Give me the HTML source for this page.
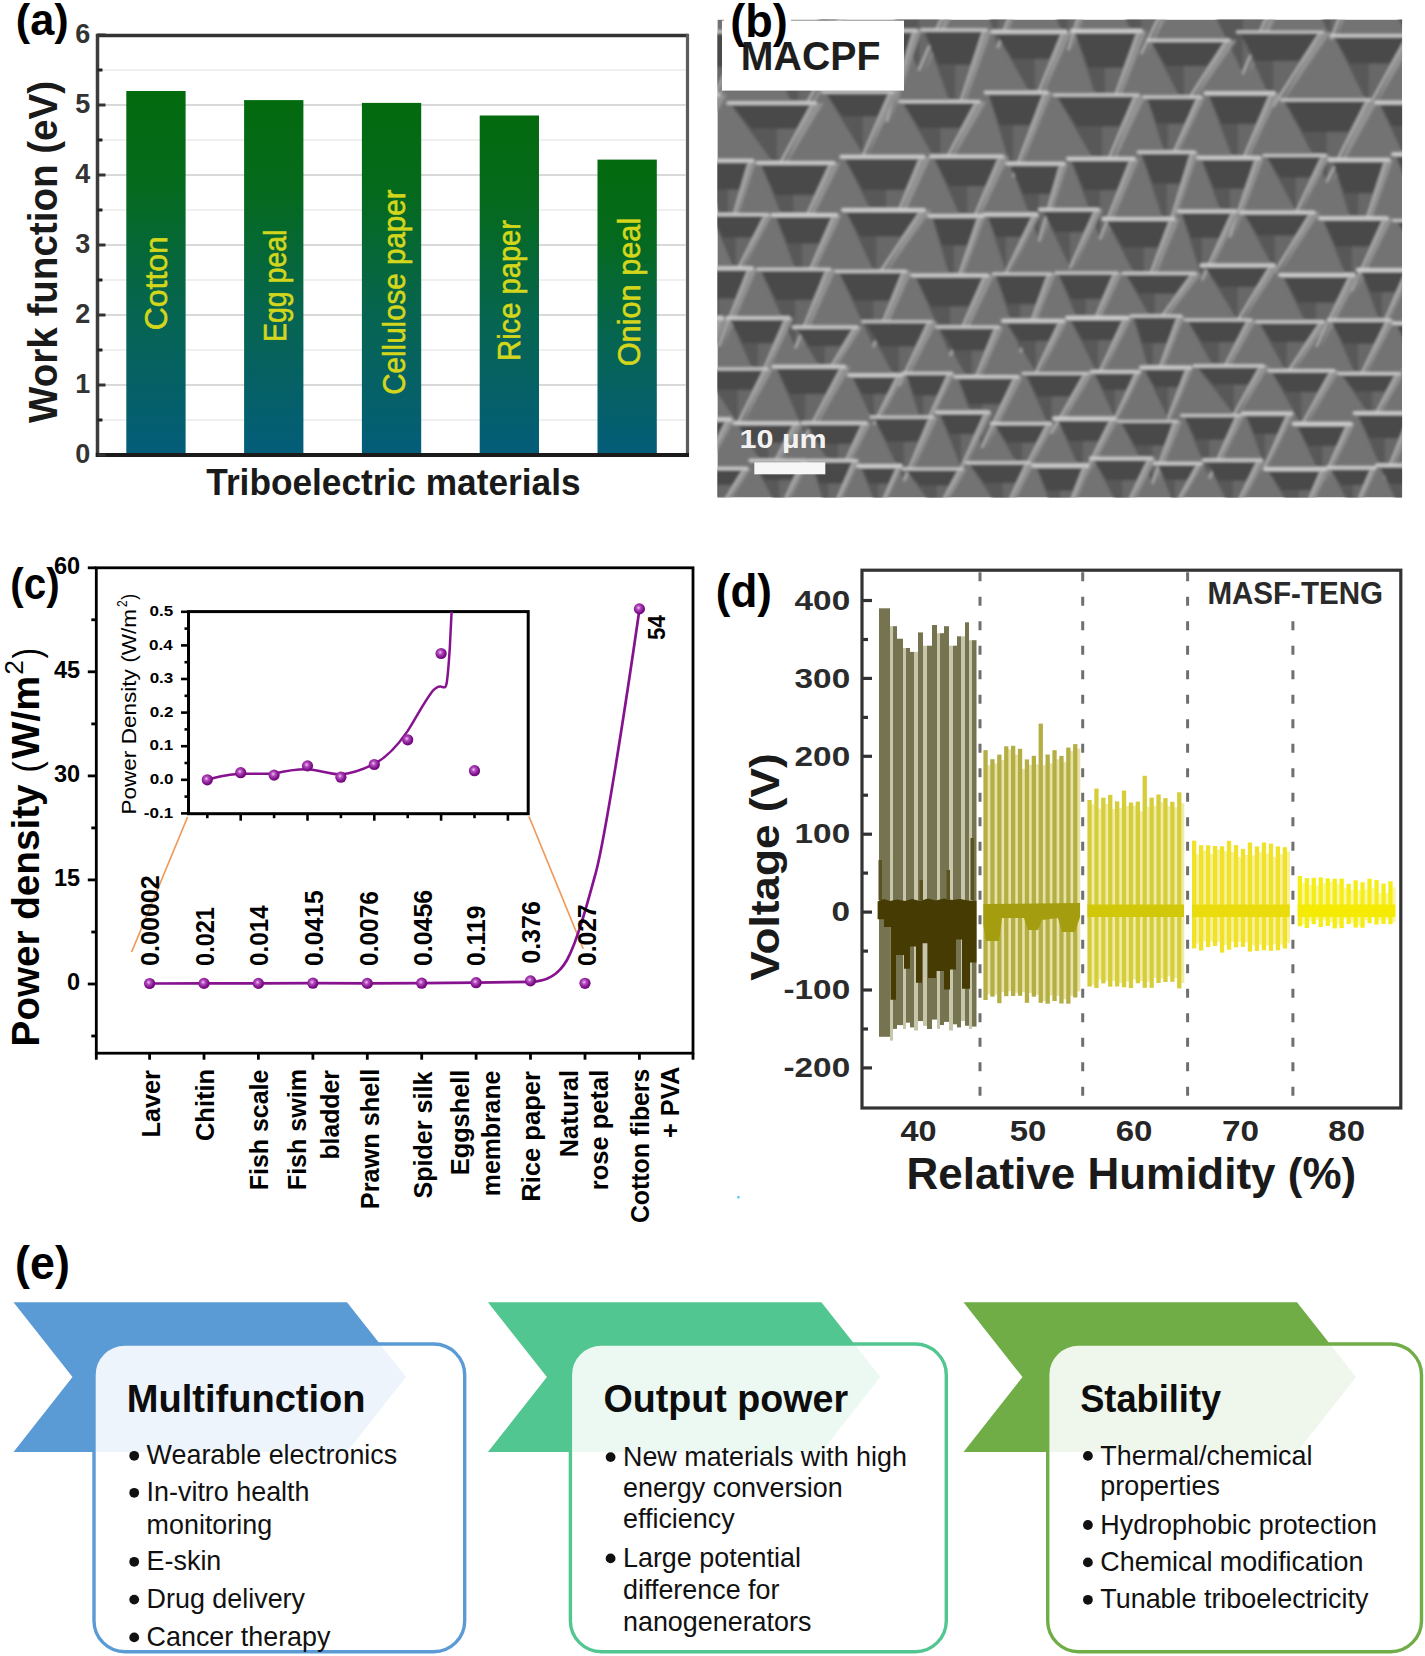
<!DOCTYPE html>
<html><head><meta charset="utf-8"><style>
html,body{margin:0;padding:0;background:#fff;}
svg{display:block;font-family:"Liberation Sans",sans-serif;}
</style></head><body>
<svg width="1425" height="1656" viewBox="0 0 1425 1656">
<defs><linearGradient id="gbar" x1="0" y1="0" x2="0" y2="1"><stop offset="0" stop-color="#036a0e"/><stop offset="0.25" stop-color="#056a1c"/><stop offset="0.6" stop-color="#066550"/><stop offset="1" stop-color="#045d7a"/></linearGradient><clipPath id="semclip"><rect x="717.4" y="19.6" width="684.7" height="477.9"/></clipPath><linearGradient id="gpit" x1="0" y1="0" x2="0" y2="1"><stop offset="0" stop-color="#4a4a4a"/><stop offset="0.6" stop-color="#5c5c5c"/><stop offset="1" stop-color="#727272"/></linearGradient><filter id="semblur" x="0" y="0" width="1" height="1"><feGaussianBlur stdDeviation="1.4"/></filter><radialGradient id="gball" cx="0.42" cy="0.4" r="0.62"><stop offset="0" stop-color="#f0c8f4"/><stop offset="0.3" stop-color="#b44cbf"/><stop offset="0.75" stop-color="#7d0f88"/><stop offset="1" stop-color="#6a0a72"/></radialGradient></defs>
<rect width="1425" height="1656" fill="#fff"/>
<text x="15.74" y="35.27" font-size="44.37" font-weight="bold" textLength="52.91" lengthAdjust="spacingAndGlyphs">(a)</text>
<line x1="99.5" y1="420.0" x2="685.5" y2="420.0" stroke="#efefef" stroke-width="2.0"/>
<line x1="99.5" y1="385.0" x2="685.5" y2="385.0" stroke="#d9d9d9" stroke-width="2.2"/>
<line x1="99.5" y1="350.0" x2="685.5" y2="350.0" stroke="#efefef" stroke-width="2.0"/>
<line x1="99.5" y1="315.0" x2="685.5" y2="315.0" stroke="#d9d9d9" stroke-width="2.2"/>
<line x1="99.5" y1="280.0" x2="685.5" y2="280.0" stroke="#efefef" stroke-width="2.0"/>
<line x1="99.5" y1="245.0" x2="685.5" y2="245.0" stroke="#d9d9d9" stroke-width="2.2"/>
<line x1="99.5" y1="210.0" x2="685.5" y2="210.0" stroke="#efefef" stroke-width="2.0"/>
<line x1="99.5" y1="175.0" x2="685.5" y2="175.0" stroke="#d9d9d9" stroke-width="2.2"/>
<line x1="99.5" y1="140.0" x2="685.5" y2="140.0" stroke="#efefef" stroke-width="2.0"/>
<line x1="99.5" y1="105.0" x2="685.5" y2="105.0" stroke="#d9d9d9" stroke-width="2.2"/>
<line x1="99.5" y1="70.0" x2="685.5" y2="70.0" stroke="#efefef" stroke-width="2.0"/>
<rect x="126.3" y="91.0" width="59.3" height="364.0" fill="url(#gbar)"/>
<rect x="244.1" y="100.1" width="59.3" height="354.9" fill="url(#gbar)"/>
<rect x="361.9" y="102.9" width="59.3" height="352.1" fill="url(#gbar)"/>
<rect x="479.7" y="115.5" width="59.3" height="339.5" fill="url(#gbar)"/>
<rect x="597.5" y="159.6" width="59.3" height="295.4" fill="url(#gbar)"/>
<text transform="translate(167.30,330.32) rotate(-90)" font-size="32.00" fill="#d4d61c" textLength="94.10" lengthAdjust="spacingAndGlyphs" stroke="#d4d61c" stroke-width="0.6">Cotton</text>
<text transform="translate(286.40,342.04) rotate(-90)" font-size="32.00" fill="#d4d61c" textLength="112.44" lengthAdjust="spacingAndGlyphs" stroke="#d4d61c" stroke-width="0.6">Egg peal</text>
<text transform="translate(405.30,394.70) rotate(-90)" font-size="32.00" fill="#d4d61c" textLength="205.19" lengthAdjust="spacingAndGlyphs" stroke="#d4d61c" stroke-width="0.6">Cellulose paper</text>
<text transform="translate(520.30,360.89) rotate(-90)" font-size="32.00" fill="#d4d61c" textLength="140.87" lengthAdjust="spacingAndGlyphs" stroke="#d4d61c" stroke-width="0.6">Rice paper</text>
<text transform="translate(640.00,366.36) rotate(-90)" font-size="32.00" fill="#d4d61c" textLength="148.61" lengthAdjust="spacingAndGlyphs" stroke="#d4d61c" stroke-width="0.6">Onion peal</text>
<line x1="97.5" y1="35.5" x2="687.5" y2="35.5" stroke="#333" stroke-width="3.5"/>
<line x1="97.5" y1="33.8" x2="97.5" y2="457.0" stroke="#3c3c3c" stroke-width="3.5"/>
<line x1="687.5" y1="33.8" x2="687.5" y2="455.0" stroke="#5c5c5c" stroke-width="3.2"/>
<line x1="95.8" y1="455.0" x2="689.0" y2="455.0" stroke="#1b1b1b" stroke-width="4.2"/>
<line x1="97.5" y1="455.0" x2="105.5" y2="455.0" stroke="#333" stroke-width="3.0"/>
<line x1="97.5" y1="420.0" x2="102.5" y2="420.0" stroke="#222" stroke-width="3.0"/>
<line x1="97.5" y1="385.0" x2="105.5" y2="385.0" stroke="#333" stroke-width="3.0"/>
<line x1="97.5" y1="350.0" x2="102.5" y2="350.0" stroke="#222" stroke-width="3.0"/>
<line x1="97.5" y1="315.0" x2="105.5" y2="315.0" stroke="#333" stroke-width="3.0"/>
<line x1="97.5" y1="280.0" x2="102.5" y2="280.0" stroke="#222" stroke-width="3.0"/>
<line x1="97.5" y1="245.0" x2="105.5" y2="245.0" stroke="#333" stroke-width="3.0"/>
<line x1="97.5" y1="210.0" x2="102.5" y2="210.0" stroke="#222" stroke-width="3.0"/>
<line x1="97.5" y1="175.0" x2="105.5" y2="175.0" stroke="#333" stroke-width="3.0"/>
<line x1="97.5" y1="140.0" x2="102.5" y2="140.0" stroke="#222" stroke-width="3.0"/>
<line x1="97.5" y1="105.0" x2="105.5" y2="105.0" stroke="#333" stroke-width="3.0"/>
<line x1="97.5" y1="70.0" x2="102.5" y2="70.0" stroke="#222" stroke-width="3.0"/>
<line x1="97.5" y1="35.0" x2="105.5" y2="35.0" stroke="#333" stroke-width="3.0"/>
<text x="90.3" y="463.0" font-size="27.0" text-anchor="end" font-weight="bold" fill="#333">0</text>
<text x="90.3" y="393.0" font-size="27.0" text-anchor="end" font-weight="bold" fill="#333">1</text>
<text x="90.3" y="323.0" font-size="27.0" text-anchor="end" font-weight="bold" fill="#333">2</text>
<text x="90.3" y="253.0" font-size="27.0" text-anchor="end" font-weight="bold" fill="#333">3</text>
<text x="90.3" y="183.0" font-size="27.0" text-anchor="end" font-weight="bold" fill="#333">4</text>
<text x="90.3" y="113.0" font-size="27.0" text-anchor="end" font-weight="bold" fill="#333">5</text>
<text x="90.3" y="43.0" font-size="27.0" text-anchor="end" font-weight="bold" fill="#333">6</text>
<text transform="translate(56.50,423.04) rotate(-90)" font-size="41.50" font-weight="bold" fill="#1a1a1a" textLength="342.15" lengthAdjust="spacingAndGlyphs">Work function (eV)</text>
<text x="206.31" y="495.10" font-size="36.00" font-weight="bold" fill="#1a1a1a" textLength="374.23" lengthAdjust="spacingAndGlyphs">Triboelectric materials</text>
<g clip-path="url(#semclip)"><rect x="717.4" y="19.6" width="684.7" height="477.9" fill="#737373"/><g filter="url(#semblur)"><polygon points="638.9,-28.8 675.3,-28.8 675.3,66.2" fill="#585858"/><polygon points="675.3,-28.8 711.6,-28.8 675.3,66.2" fill="#686868"/><polygon points="638.9,-28.8 711.6,-28.8 695.3,8.0 655.3,8.0" fill="#4a4a4a"/><polygon points="711.6,-29.8 721.9,-29.8 679.7,68.2" fill="#929292"/><path d="M635.9,-29.8 L714.6,-29.8" stroke="#d0d0d0" stroke-width="3.5" stroke-linecap="round"/><path d="M711.6,-28.8 L675.3,66.2" stroke="#b5b5b5" stroke-width="2.2" stroke-linecap="round"/><polygon points="724.1,-26.8 757.2,-26.8 757.2,53.4" fill="#585858"/><polygon points="757.2,-26.8 783.6,-26.8 757.2,53.4" fill="#686868"/><polygon points="724.1,-26.8 783.6,-26.8 771.5,4.0 738.8,4.0" fill="#4a4a4a"/><polygon points="783.6,-27.8 792.1,-27.8 760.7,55.4" fill="#929292"/><path d="M721.1,-27.8 L786.6,-27.8" stroke="#d0d0d0" stroke-width="2.8" stroke-linecap="round"/><path d="M783.6,-26.8 L757.2,53.4" stroke="#b5b5b5" stroke-width="2.2" stroke-linecap="round"/><polygon points="795.3,-24.7 829.5,-24.7 829.5,40.4" fill="#585858"/><polygon points="829.5,-24.7 858.9,-24.7 829.5,40.4" fill="#686868"/><polygon points="795.3,-24.7 858.9,-24.7 845.5,0.2 810.6,0.2" fill="#4a4a4a"/><polygon points="858.9,-25.7 868.0,-25.7 833.2,42.4" fill="#929292"/><path d="M792.3,-25.7 L861.9,-25.7" stroke="#d0d0d0" stroke-width="2.7" stroke-linecap="round"/><path d="M858.9,-24.7 L829.5,40.4" stroke="#b5b5b5" stroke-width="2.2" stroke-linecap="round"/><polygon points="873.3,-26.6 919.0,-26.6 919.0,69.9" fill="#585858"/><polygon points="919.0,-26.6 960.9,-26.6 919.0,69.9" fill="#686868"/><polygon points="873.3,-26.6 960.9,-26.6 942.0,10.8 893.8,10.8" fill="#4a4a4a"/><polygon points="960.9,-27.6 973.4,-27.6 924.2,71.9" fill="#929292"/><path d="M870.3,-27.6 L963.9,-27.6" stroke="#d0d0d0" stroke-width="2.9" stroke-linecap="round"/><path d="M960.9,-26.6 L919.0,69.9" stroke="#b5b5b5" stroke-width="2.2" stroke-linecap="round"/><polygon points="974.3,-33.7 997.9,-33.7 997.9,47.1" fill="#585858"/><polygon points="997.9,-33.7 1027.8,-33.7 997.9,47.1" fill="#686868"/><polygon points="974.3,-33.7 1027.8,-33.7 1014.5,-2.6 985.1,-2.6" fill="#4a4a4a"/><polygon points="1027.8,-34.7 1035.4,-34.7 1001.1,49.1" fill="#929292"/><path d="M971.3,-34.7 L1030.8,-34.7" stroke="#d0d0d0" stroke-width="3.0" stroke-linecap="round"/><path d="M1027.8,-33.7 L997.9,47.1" stroke="#b5b5b5" stroke-width="2.2" stroke-linecap="round"/><polygon points="1038.0,-29.1 1068.5,-29.1 1068.5,49.4" fill="#585858"/><polygon points="1068.5,-29.1 1092.0,-29.1 1068.5,49.4" fill="#686868"/><polygon points="1038.0,-29.1 1092.0,-29.1 1081.2,1.1 1051.6,1.1" fill="#4a4a4a"/><polygon points="1092.0,-30.1 1099.7,-30.1 1071.7,51.4" fill="#929292"/><path d="M1035.0,-30.1 L1095.0,-30.1" stroke="#d0d0d0" stroke-width="3.4" stroke-linecap="round"/><path d="M1092.0,-29.1 L1068.5,49.4" stroke="#b5b5b5" stroke-width="2.2" stroke-linecap="round"/><polygon points="1104.3,-26.5 1141.5,-26.5 1141.5,53.3" fill="#585858"/><polygon points="1141.5,-26.5 1179.8,-26.5 1141.5,53.3" fill="#686868"/><polygon points="1104.3,-26.5 1179.8,-26.5 1162.6,4.3 1121.1,4.3" fill="#4a4a4a"/><polygon points="1179.8,-27.5 1190.6,-27.5 1146.0,55.3" fill="#929292"/><path d="M1101.3,-27.5 L1182.8,-27.5" stroke="#d0d0d0" stroke-width="3.0" stroke-linecap="round"/><path d="M1179.8,-26.5 L1141.5,53.3" stroke="#b5b5b5" stroke-width="2.2" stroke-linecap="round"/><polygon points="1195.4,-24.3 1243.0,-24.3 1243.0,73.3" fill="#585858"/><polygon points="1243.0,-24.3 1283.5,-24.3 1243.0,73.3" fill="#686868"/><polygon points="1195.4,-24.3 1283.5,-24.3 1265.1,13.5 1216.6,13.5" fill="#4a4a4a"/><polygon points="1283.5,-25.3 1296.1,-25.3 1248.2,75.3" fill="#929292"/><path d="M1192.4,-25.3 L1286.5,-25.3" stroke="#d0d0d0" stroke-width="3.1" stroke-linecap="round"/><path d="M1283.5,-24.3 L1243.0,73.3" stroke="#b5b5b5" stroke-width="2.2" stroke-linecap="round"/><polygon points="1297.7,-33.6 1331.3,-33.6 1331.3,38.7" fill="#585858"/><polygon points="1331.3,-33.6 1358.8,-33.6 1331.3,38.7" fill="#686868"/><polygon points="1297.7,-33.6 1358.8,-33.6 1346.3,-5.9 1312.7,-5.9" fill="#4a4a4a"/><polygon points="1358.8,-34.6 1367.5,-34.6 1335.0,40.7" fill="#929292"/><path d="M1294.7,-34.6 L1361.8,-34.6" stroke="#d0d0d0" stroke-width="3.2" stroke-linecap="round"/><path d="M1358.8,-33.6 L1331.3,38.7" stroke="#b5b5b5" stroke-width="2.2" stroke-linecap="round"/><polygon points="1372.5,-22.9 1419.3,-22.9 1419.3,52.8" fill="#585858"/><polygon points="1419.3,-22.9 1455.2,-22.9 1419.3,52.8" fill="#686868"/><polygon points="1372.5,-22.9 1455.2,-22.9 1438.8,6.2 1393.3,6.2" fill="#4a4a4a"/><polygon points="1455.2,-23.9 1467.1,-23.9 1424.2,54.8" fill="#929292"/><path d="M1369.5,-23.9 L1458.2,-23.9" stroke="#d0d0d0" stroke-width="2.6" stroke-linecap="round"/><path d="M1455.2,-22.9 L1419.3,52.8" stroke="#b5b5b5" stroke-width="2.2" stroke-linecap="round"/><polygon points="1468.9,-28.8 1504.5,-28.8 1504.5,65.8" fill="#585858"/><polygon points="1504.5,-28.8 1529.2,-28.8 1504.5,65.8" fill="#686868"/><polygon points="1468.9,-28.8 1529.2,-28.8 1517.8,7.9 1484.6,7.9" fill="#4a4a4a"/><polygon points="1529.2,-29.8 1537.8,-29.8 1508.1,67.8" fill="#929292"/><path d="M1465.9,-29.8 L1532.2,-29.8" stroke="#d0d0d0" stroke-width="3.2" stroke-linecap="round"/><path d="M1529.2,-28.8 L1504.5,65.8" stroke="#b5b5b5" stroke-width="2.2" stroke-linecap="round"/><polygon points="670.1,32.7 701.4,32.7 701.4,121.5" fill="#585858"/><polygon points="701.4,32.7 744.5,32.7 701.4,121.5" fill="#686868"/><polygon points="670.1,32.7 744.5,32.7 725.4,67.0 684.5,67.0" fill="#4a4a4a"/><polygon points="744.5,31.7 755.1,31.7 705.9,123.5" fill="#929292"/><path d="M667.1,31.7 L747.5,31.7" stroke="#d0d0d0" stroke-width="3.1" stroke-linecap="round"/><path d="M744.5,32.7 L701.4,121.5" stroke="#b5b5b5" stroke-width="2.2" stroke-linecap="round"/><polygon points="759.7,30.9 798.6,30.9 798.6,119.0" fill="#585858"/><polygon points="798.6,30.9 845.8,30.9 798.6,119.0" fill="#686868"/><polygon points="759.7,30.9 845.8,30.9 824.7,64.9 777.4,64.9" fill="#4a4a4a"/><polygon points="845.8,29.9 858.1,29.9 803.7,121.0" fill="#929292"/><path d="M756.7,29.9 L848.8,29.9" stroke="#d0d0d0" stroke-width="2.8" stroke-linecap="round"/><path d="M845.8,30.9 L798.6,119.0" stroke="#b5b5b5" stroke-width="2.2" stroke-linecap="round"/><polygon points="859.1,31.6 887.0,31.6 887.0,121.1" fill="#585858"/><polygon points="887.0,31.6 913.6,31.6 887.0,121.1" fill="#686868"/><polygon points="859.1,31.6 913.6,31.6 901.6,66.2 871.6,66.2" fill="#4a4a4a"/><polygon points="913.6,30.6 921.4,30.6 890.2,123.1" fill="#929292"/><path d="M856.1,30.6 L916.6,30.6" stroke="#d0d0d0" stroke-width="3.3" stroke-linecap="round"/><path d="M913.6,31.6 L887.0,121.1" stroke="#b5b5b5" stroke-width="2.2" stroke-linecap="round"/><polygon points="924.4,31.0 955.5,31.0 955.5,118.2" fill="#585858"/><polygon points="955.5,31.0 983.4,31.0 955.5,118.2" fill="#686868"/><polygon points="924.4,31.0 983.4,31.0 970.8,64.7 938.3,64.7" fill="#4a4a4a"/><polygon points="983.4,30.0 991.9,30.0 959.1,120.2" fill="#929292"/><path d="M921.4,30.0 L986.4,30.0" stroke="#d0d0d0" stroke-width="2.8" stroke-linecap="round"/><path d="M983.4,31.0 L955.5,118.2" stroke="#b5b5b5" stroke-width="2.2" stroke-linecap="round"/><polygon points="995.5,32.7 1035.0,32.7 1035.0,101.4" fill="#585858"/><polygon points="1035.0,32.7 1062.5,32.7 1035.0,101.4" fill="#686868"/><polygon points="995.5,32.7 1062.5,32.7 1049.8,59.0 1013.0,59.0" fill="#4a4a4a"/><polygon points="1062.5,31.7 1072.1,31.7 1039.0,103.4" fill="#929292"/><path d="M992.5,31.7 L1065.5,31.7" stroke="#d0d0d0" stroke-width="3.9" stroke-linecap="round"/><path d="M1062.5,32.7 L1035.0,101.4" stroke="#b5b5b5" stroke-width="2.2" stroke-linecap="round"/><polygon points="1074.9,32.0 1105.1,32.0 1105.1,124.6" fill="#585858"/><polygon points="1105.1,32.0 1137.9,32.0 1105.1,124.6" fill="#686868"/><polygon points="1074.9,32.0 1137.9,32.0 1123.2,67.8 1088.6,67.8" fill="#4a4a4a"/><polygon points="1137.9,31.0 1146.9,31.0 1108.9,126.6" fill="#929292"/><path d="M1071.9,31.0 L1140.9,31.0" stroke="#d0d0d0" stroke-width="4.0" stroke-linecap="round"/><path d="M1137.9,32.0 L1105.1,124.6" stroke="#b5b5b5" stroke-width="2.2" stroke-linecap="round"/><polygon points="1151.0,41.3 1184.3,41.3 1184.3,106.1" fill="#585858"/><polygon points="1184.3,41.3 1225.8,41.3 1184.3,106.1" fill="#686868"/><polygon points="1151.0,41.3 1225.8,41.3 1207.3,66.0 1166.2,66.0" fill="#4a4a4a"/><polygon points="1225.8,40.3 1236.5,40.3 1188.8,108.1" fill="#929292"/><path d="M1148.0,40.3 L1228.8,40.3" stroke="#d0d0d0" stroke-width="3.0" stroke-linecap="round"/><path d="M1225.8,41.3 L1184.3,106.1" stroke="#b5b5b5" stroke-width="2.2" stroke-linecap="round"/><polygon points="1240.5,33.0 1273.7,33.0 1273.7,105.9" fill="#585858"/><polygon points="1273.7,33.0 1319.8,33.0 1273.7,105.9" fill="#686868"/><polygon points="1240.5,33.0 1319.8,33.0 1299.4,60.9 1255.8,60.9" fill="#4a4a4a"/><polygon points="1319.8,32.0 1331.2,32.0 1278.4,107.9" fill="#929292"/><path d="M1237.5,32.0 L1322.8,32.0" stroke="#d0d0d0" stroke-width="2.7" stroke-linecap="round"/><path d="M1319.8,33.0 L1273.7,105.9" stroke="#b5b5b5" stroke-width="2.2" stroke-linecap="round"/><polygon points="1334.3,36.7 1368.9,36.7 1368.9,106.5" fill="#585858"/><polygon points="1368.9,36.7 1407.0,36.7 1368.9,106.5" fill="#686868"/><polygon points="1334.3,36.7 1407.0,36.7 1390.0,63.4 1350.0,63.4" fill="#4a4a4a"/><polygon points="1407.0,35.7 1417.4,35.7 1373.2,108.5" fill="#929292"/><path d="M1331.3,35.7 L1410.0,35.7" stroke="#d0d0d0" stroke-width="3.3" stroke-linecap="round"/><path d="M1407.0,36.7 L1368.9,106.5" stroke="#b5b5b5" stroke-width="2.2" stroke-linecap="round"/><polygon points="1422.1,36.3 1471.1,36.3 1471.1,114.7" fill="#585858"/><polygon points="1471.1,36.3 1508.0,36.3 1471.1,114.7" fill="#686868"/><polygon points="1422.1,36.3 1508.0,36.3 1491.1,66.5 1443.9,66.5" fill="#4a4a4a"/><polygon points="1508.0,35.3 1520.3,35.3 1476.2,116.7" fill="#929292"/><path d="M1419.1,35.3 L1511.0,35.3" stroke="#d0d0d0" stroke-width="2.9" stroke-linecap="round"/><path d="M1508.0,36.3 L1471.1,114.7" stroke="#b5b5b5" stroke-width="2.2" stroke-linecap="round"/><polygon points="635.5,95.6 670.8,95.6 670.8,181.5" fill="#585858"/><polygon points="670.8,95.6 715.6,95.6 670.8,181.5" fill="#686868"/><polygon points="635.5,95.6 715.6,95.6 695.7,128.8 651.6,128.8" fill="#4a4a4a"/><polygon points="715.6,94.6 727.0,94.6 675.6,183.5" fill="#929292"/><path d="M632.5,94.6 L718.6,94.6" stroke="#d0d0d0" stroke-width="3.8" stroke-linecap="round"/><path d="M715.6,95.6 L670.8,181.5" stroke="#b5b5b5" stroke-width="2.2" stroke-linecap="round"/><polygon points="730.9,104.0 777.4,104.0 777.4,168.8" fill="#585858"/><polygon points="777.4,104.0 812.1,104.0 777.4,168.8" fill="#686868"/><polygon points="730.9,104.0 812.1,104.0 796.2,128.7 751.5,128.7" fill="#4a4a4a"/><polygon points="812.1,103.0 823.7,103.0 782.2,170.8" fill="#929292"/><path d="M727.9,103.0 L815.1,103.0" stroke="#d0d0d0" stroke-width="3.6" stroke-linecap="round"/><path d="M812.1,104.0 L777.4,168.8" stroke="#b5b5b5" stroke-width="2.2" stroke-linecap="round"/><polygon points="825.9,93.1 863.4,93.1 863.4,154.8" fill="#585858"/><polygon points="863.4,93.1 889.8,93.1 863.4,154.8" fill="#686868"/><polygon points="825.9,93.1 889.8,93.1 877.6,116.6 842.5,116.6" fill="#4a4a4a"/><polygon points="889.8,92.1 898.9,92.1 867.2,156.8" fill="#929292"/><path d="M822.9,92.1 L892.8,92.1" stroke="#d0d0d0" stroke-width="3.0" stroke-linecap="round"/><path d="M889.8,93.1 L863.4,154.8" stroke="#b5b5b5" stroke-width="2.2" stroke-linecap="round"/><polygon points="902.8,102.5 940.8,102.5 940.8,169.4" fill="#585858"/><polygon points="940.8,102.5 976.1,102.5 940.8,169.4" fill="#686868"/><polygon points="902.8,102.5 976.1,102.5 960.2,128.0 919.9,128.0" fill="#4a4a4a"/><polygon points="976.1,101.5 986.6,101.5 945.2,171.4" fill="#929292"/><path d="M899.8,101.5 L979.1,101.5" stroke="#d0d0d0" stroke-width="3.1" stroke-linecap="round"/><path d="M976.1,102.5 L940.8,169.4" stroke="#b5b5b5" stroke-width="2.2" stroke-linecap="round"/><polygon points="988.4,93.4 1013.4,93.4 1013.4,176.0" fill="#585858"/><polygon points="1013.4,93.4 1044.1,93.4 1013.4,176.0" fill="#686868"/><polygon points="988.4,93.4 1044.1,93.4 1030.4,125.3 999.8,125.3" fill="#4a4a4a"/><polygon points="1044.1,92.4 1052.1,92.4 1016.7,178.0" fill="#929292"/><path d="M985.4,92.4 L1047.1,92.4" stroke="#d0d0d0" stroke-width="3.5" stroke-linecap="round"/><path d="M1044.1,93.4 L1013.4,176.0" stroke="#b5b5b5" stroke-width="2.2" stroke-linecap="round"/><polygon points="1056.9,96.0 1102.2,96.0 1102.2,174.9" fill="#585858"/><polygon points="1102.2,96.0 1135.1,96.0 1102.2,174.9" fill="#686868"/><polygon points="1056.9,96.0 1135.1,96.0 1120.0,126.4 1077.0,126.4" fill="#4a4a4a"/><polygon points="1135.1,95.0 1146.3,95.0 1106.9,176.9" fill="#929292"/><path d="M1053.9,95.0 L1138.1,95.0" stroke="#d0d0d0" stroke-width="2.9" stroke-linecap="round"/><path d="M1135.1,96.0 L1102.2,174.9" stroke="#b5b5b5" stroke-width="2.2" stroke-linecap="round"/><polygon points="1147.3,98.0 1168.3,98.0 1168.3,165.2" fill="#585858"/><polygon points="1168.3,98.0 1197.8,98.0 1168.3,165.2" fill="#686868"/><polygon points="1147.3,98.0 1197.8,98.0 1184.7,123.7 1157.0,123.7" fill="#4a4a4a"/><polygon points="1197.8,97.0 1205.0,97.0 1171.3,167.2" fill="#929292"/><path d="M1144.3,97.0 L1200.8,97.0" stroke="#d0d0d0" stroke-width="2.9" stroke-linecap="round"/><path d="M1197.8,98.0 L1168.3,165.2" stroke="#b5b5b5" stroke-width="2.2" stroke-linecap="round"/><polygon points="1208.5,94.2 1237.9,94.2 1237.9,171.7" fill="#585858"/><polygon points="1237.9,94.2 1270.6,94.2 1237.9,171.7" fill="#686868"/><polygon points="1208.5,94.2 1270.6,94.2 1256.0,124.0 1221.8,124.0" fill="#4a4a4a"/><polygon points="1270.6,93.2 1279.5,93.2 1241.6,173.7" fill="#929292"/><path d="M1205.5,93.2 L1273.6,93.2" stroke="#d0d0d0" stroke-width="4.0" stroke-linecap="round"/><path d="M1270.6,94.2 L1237.9,171.7" stroke="#b5b5b5" stroke-width="2.2" stroke-linecap="round"/><polygon points="1284.4,100.9 1327.0,100.9 1327.0,181.3" fill="#585858"/><polygon points="1327.0,100.9 1366.9,100.9 1327.0,181.3" fill="#686868"/><polygon points="1284.4,100.9 1366.9,100.9 1348.8,131.9 1303.5,131.9" fill="#4a4a4a"/><polygon points="1366.9,99.9 1378.7,99.9 1331.9,183.3" fill="#929292"/><path d="M1281.4,99.9 L1369.9,99.9" stroke="#d0d0d0" stroke-width="2.8" stroke-linecap="round"/><path d="M1366.9,100.9 L1327.0,181.3" stroke="#b5b5b5" stroke-width="2.2" stroke-linecap="round"/><polygon points="1379.6,103.5 1407.1,103.5 1407.1,162.3" fill="#585858"/><polygon points="1407.1,103.5 1430.6,103.5 1407.1,162.3" fill="#686868"/><polygon points="1379.6,103.5 1430.6,103.5 1419.9,125.9 1391.9,125.9" fill="#4a4a4a"/><polygon points="1430.6,102.5 1437.9,102.5 1410.1,164.3" fill="#929292"/><path d="M1376.6,102.5 L1433.6,102.5" stroke="#d0d0d0" stroke-width="4.1" stroke-linecap="round"/><path d="M1430.6,103.5 L1407.1,162.3" stroke="#b5b5b5" stroke-width="2.2" stroke-linecap="round"/><polygon points="1440.3,98.4 1467.8,98.4 1467.8,178.1" fill="#585858"/><polygon points="1467.8,98.4 1490.9,98.4 1467.8,178.1" fill="#686868"/><polygon points="1440.3,98.4 1490.9,98.4 1480.4,129.1 1452.6,129.1" fill="#4a4a4a"/><polygon points="1490.9,97.4 1498.1,97.4 1470.8,180.1" fill="#929292"/><path d="M1437.3,97.4 L1493.9,97.4" stroke="#d0d0d0" stroke-width="3.1" stroke-linecap="round"/><path d="M1490.9,98.4 L1467.8,178.1" stroke="#b5b5b5" stroke-width="2.2" stroke-linecap="round"/><polygon points="699.4,161.6 728.2,161.6 728.2,234.5" fill="#585858"/><polygon points="728.2,161.6 749.3,161.6 728.2,234.5" fill="#686868"/><polygon points="699.4,161.6 749.3,161.6 739.6,189.6 712.2,189.6" fill="#4a4a4a"/><polygon points="749.3,160.6 756.4,160.6 731.1,236.5" fill="#929292"/><path d="M696.4,160.6 L752.3,160.6" stroke="#d0d0d0" stroke-width="3.8" stroke-linecap="round"/><path d="M749.3,161.6 L728.2,234.5" stroke="#b5b5b5" stroke-width="2.2" stroke-linecap="round"/><polygon points="760.7,163.8 793.6,163.8 793.6,244.6" fill="#585858"/><polygon points="793.6,163.8 830.5,163.8 793.6,244.6" fill="#686868"/><polygon points="760.7,163.8 830.5,163.8 814.0,194.9 775.6,194.9" fill="#4a4a4a"/><polygon points="830.5,162.8 840.5,162.8 797.8,246.6" fill="#929292"/><path d="M757.7,162.8 L833.5,162.8" stroke="#d0d0d0" stroke-width="3.7" stroke-linecap="round"/><path d="M830.5,163.8 L793.6,244.6" stroke="#b5b5b5" stroke-width="2.2" stroke-linecap="round"/><polygon points="844.4,157.8 886.6,157.8 886.6,241.2" fill="#585858"/><polygon points="886.6,157.8 920.4,157.8 886.6,241.2" fill="#686868"/><polygon points="844.4,157.8 920.4,157.8 905.0,189.9 863.2,189.9" fill="#4a4a4a"/><polygon points="920.4,156.8 931.2,156.8 891.1,243.2" fill="#929292"/><path d="M841.4,156.8 L923.4,156.8" stroke="#d0d0d0" stroke-width="4.0" stroke-linecap="round"/><path d="M920.4,157.8 L886.6,241.2" stroke="#b5b5b5" stroke-width="2.2" stroke-linecap="round"/><polygon points="933.9,157.4 967.7,157.4 967.7,232.8" fill="#585858"/><polygon points="967.7,157.4 999.5,157.4 967.7,232.8" fill="#686868"/><polygon points="933.9,157.4 999.5,157.4 985.2,186.3 949.1,186.3" fill="#4a4a4a"/><polygon points="999.5,156.4 1008.9,156.4 971.6,234.8" fill="#929292"/><path d="M930.9,156.4 L1002.5,156.4" stroke="#d0d0d0" stroke-width="3.6" stroke-linecap="round"/><path d="M999.5,157.4 L967.7,232.8" stroke="#b5b5b5" stroke-width="2.2" stroke-linecap="round"/><polygon points="1010.5,164.7 1039.2,164.7 1039.2,240.6" fill="#585858"/><polygon points="1039.2,164.7 1060.6,164.7 1039.2,240.6" fill="#686868"/><polygon points="1010.5,164.7 1060.6,164.7 1050.8,193.9 1023.2,193.9" fill="#4a4a4a"/><polygon points="1060.6,163.7 1067.7,163.7 1042.1,242.6" fill="#929292"/><path d="M1007.5,163.7 L1063.6,163.7" stroke="#d0d0d0" stroke-width="3.8" stroke-linecap="round"/><path d="M1060.6,164.7 L1039.2,240.6" stroke="#b5b5b5" stroke-width="2.2" stroke-linecap="round"/><polygon points="1071.0,159.8 1100.2,159.8 1100.2,238.7" fill="#585858"/><polygon points="1100.2,159.8 1130.8,159.8 1100.2,238.7" fill="#686868"/><polygon points="1071.0,159.8 1130.8,159.8 1117.1,190.2 1084.2,190.2" fill="#4a4a4a"/><polygon points="1130.8,158.8 1139.4,158.8 1103.8,240.7" fill="#929292"/><path d="M1068.0,158.8 L1133.8,158.8" stroke="#d0d0d0" stroke-width="3.9" stroke-linecap="round"/><path d="M1130.8,159.8 L1100.2,238.7" stroke="#b5b5b5" stroke-width="2.2" stroke-linecap="round"/><polygon points="1141.3,153.1 1167.3,153.1 1167.3,232.6" fill="#585858"/><polygon points="1167.3,153.1 1191.4,153.1 1167.3,232.6" fill="#686868"/><polygon points="1141.3,153.1 1191.4,153.1 1180.5,183.7 1153.0,183.7" fill="#4a4a4a"/><polygon points="1191.4,152.1 1198.6,152.1 1170.3,234.6" fill="#929292"/><path d="M1138.3,152.1 L1194.4,152.1" stroke="#d0d0d0" stroke-width="3.4" stroke-linecap="round"/><path d="M1191.4,153.1 L1167.3,232.6" stroke="#b5b5b5" stroke-width="2.2" stroke-linecap="round"/><polygon points="1201.4,158.8 1230.0,158.8 1230.0,236.6" fill="#585858"/><polygon points="1230.0,158.8 1256.2,158.8 1230.0,236.6" fill="#686868"/><polygon points="1201.4,158.8 1256.2,158.8 1244.4,188.7 1214.2,188.7" fill="#4a4a4a"/><polygon points="1256.2,157.8 1264.0,157.8 1233.3,238.6" fill="#929292"/><path d="M1198.4,157.8 L1259.2,157.8" stroke="#d0d0d0" stroke-width="4.1" stroke-linecap="round"/><path d="M1256.2,158.8 L1230.0,236.6" stroke="#b5b5b5" stroke-width="2.2" stroke-linecap="round"/><polygon points="1266.7,156.4 1296.4,156.4 1296.4,212.1" fill="#585858"/><polygon points="1296.4,156.4 1322.3,156.4 1296.4,212.1" fill="#686868"/><polygon points="1266.7,156.4 1322.3,156.4 1310.6,177.5 1280.0,177.5" fill="#4a4a4a"/><polygon points="1322.3,155.4 1330.3,155.4 1299.7,214.1" fill="#929292"/><path d="M1263.7,155.4 L1325.3,155.4" stroke="#d0d0d0" stroke-width="2.9" stroke-linecap="round"/><path d="M1322.3,156.4 L1296.4,212.1" stroke="#b5b5b5" stroke-width="2.2" stroke-linecap="round"/><polygon points="1332.6,160.7 1358.5,160.7 1358.5,245.2" fill="#585858"/><polygon points="1358.5,160.7 1385.5,160.7 1358.5,245.2" fill="#686868"/><polygon points="1332.6,160.7 1385.5,160.7 1373.4,193.3 1344.3,193.3" fill="#4a4a4a"/><polygon points="1385.5,159.7 1393.1,159.7 1361.6,247.2" fill="#929292"/><path d="M1329.6,159.7 L1388.5,159.7" stroke="#d0d0d0" stroke-width="4.0" stroke-linecap="round"/><path d="M1385.5,160.7 L1358.5,245.2" stroke="#b5b5b5" stroke-width="2.2" stroke-linecap="round"/><polygon points="1396.1,155.2 1424.2,155.2 1424.2,231.9" fill="#585858"/><polygon points="1424.2,155.2 1453.9,155.2 1424.2,231.9" fill="#686868"/><polygon points="1396.1,155.2 1453.9,155.2 1440.6,184.7 1408.8,184.7" fill="#4a4a4a"/><polygon points="1453.9,154.2 1462.2,154.2 1427.7,233.9" fill="#929292"/><path d="M1393.1,154.2 L1456.9,154.2" stroke="#d0d0d0" stroke-width="3.9" stroke-linecap="round"/><path d="M1453.9,155.2 L1424.2,231.9" stroke="#b5b5b5" stroke-width="2.2" stroke-linecap="round"/><polygon points="1466.7,157.4 1506.1,157.4 1506.1,241.1" fill="#585858"/><polygon points="1506.1,157.4 1543.1,157.4 1506.1,241.1" fill="#686868"/><polygon points="1466.7,157.4 1543.1,157.4 1526.4,189.7 1484.4,189.7" fill="#4a4a4a"/><polygon points="1543.1,156.4 1554.1,156.4 1510.7,243.1" fill="#929292"/><path d="M1463.7,156.4 L1546.1,156.4" stroke="#d0d0d0" stroke-width="3.1" stroke-linecap="round"/><path d="M1543.1,157.4 L1506.1,241.1" stroke="#b5b5b5" stroke-width="2.2" stroke-linecap="round"/><polygon points="640.4,220.3 672.9,220.3 672.9,298.5" fill="#585858"/><polygon points="672.9,220.3 700.6,220.3 672.9,298.5" fill="#686868"/><polygon points="640.4,220.3 700.6,220.3 688.0,250.4 654.9,250.4" fill="#4a4a4a"/><polygon points="700.6,219.3 709.2,219.3 676.5,300.5" fill="#929292"/><path d="M637.4,219.3 L703.6,219.3" stroke="#d0d0d0" stroke-width="4.1" stroke-linecap="round"/><path d="M700.6,220.3 L672.9,298.5" stroke="#b5b5b5" stroke-width="2.2" stroke-linecap="round"/><polygon points="711.5,215.5 736.0,215.5 736.0,273.2" fill="#585858"/><polygon points="736.0,215.5 765.0,215.5 736.0,273.2" fill="#686868"/><polygon points="711.5,215.5 765.0,215.5 752.1,237.4 722.6,237.4" fill="#4a4a4a"/><polygon points="765.0,214.5 772.7,214.5 739.1,275.2" fill="#929292"/><path d="M708.5,214.5 L768.0,214.5" stroke="#d0d0d0" stroke-width="2.9" stroke-linecap="round"/><path d="M765.0,215.5 L736.0,273.2" stroke="#b5b5b5" stroke-width="2.2" stroke-linecap="round"/><polygon points="775.6,216.0 802.5,216.0 802.5,287.8" fill="#585858"/><polygon points="802.5,216.0 833.3,216.0 802.5,287.8" fill="#686868"/><polygon points="775.6,216.0 833.3,216.0 819.5,243.5 787.8,243.5" fill="#4a4a4a"/><polygon points="833.3,215.0 841.6,215.0 805.9,289.8" fill="#929292"/><path d="M772.6,215.0 L836.3,215.0" stroke="#d0d0d0" stroke-width="3.9" stroke-linecap="round"/><path d="M833.3,216.0 L802.5,287.8" stroke="#b5b5b5" stroke-width="2.2" stroke-linecap="round"/><polygon points="846.0,211.0 876.7,211.0 876.7,277.4" fill="#585858"/><polygon points="876.7,211.0 920.8,211.0 876.7,277.4" fill="#686868"/><polygon points="846.0,211.0 920.8,211.0 901.3,236.4 860.1,236.4" fill="#4a4a4a"/><polygon points="920.8,210.0 931.5,210.0 881.2,279.4" fill="#929292"/><path d="M843.0,210.0 L923.8,210.0" stroke="#d0d0d0" stroke-width="4.0" stroke-linecap="round"/><path d="M920.8,211.0 L876.7,277.4" stroke="#b5b5b5" stroke-width="2.2" stroke-linecap="round"/><polygon points="932.4,216.9 953.9,216.9 953.9,291.2" fill="#585858"/><polygon points="953.9,216.9 978.8,216.9 953.9,291.2" fill="#686868"/><polygon points="932.4,216.9 978.8,216.9 967.7,245.5 942.1,245.5" fill="#4a4a4a"/><polygon points="978.8,215.9 985.5,215.9 956.7,293.2" fill="#929292"/><path d="M929.4,215.9 L981.8,215.9" stroke="#d0d0d0" stroke-width="3.9" stroke-linecap="round"/><path d="M978.8,216.9 L953.9,291.2" stroke="#b5b5b5" stroke-width="2.2" stroke-linecap="round"/><polygon points="987.6,215.5 1006.4,215.5 1006.4,272.3" fill="#585858"/><polygon points="1006.4,215.5 1033.4,215.5 1006.4,272.3" fill="#686868"/><polygon points="987.6,215.5 1033.4,215.5 1021.5,237.0 996.3,237.0" fill="#4a4a4a"/><polygon points="1033.4,214.5 1040.0,214.5 1009.1,274.3" fill="#929292"/><path d="M984.6,214.5 L1036.4,214.5" stroke="#d0d0d0" stroke-width="3.9" stroke-linecap="round"/><path d="M1033.4,215.5 L1006.4,272.3" stroke="#b5b5b5" stroke-width="2.2" stroke-linecap="round"/><polygon points="1042.8,210.6 1070.3,210.6 1070.3,267.5" fill="#585858"/><polygon points="1070.3,210.6 1095.2,210.6 1070.3,267.5" fill="#686868"/><polygon points="1042.8,210.6 1095.2,210.6 1083.9,232.2 1055.1,232.2" fill="#4a4a4a"/><polygon points="1095.2,209.6 1102.7,209.6 1073.4,269.5" fill="#929292"/><path d="M1039.8,209.6 L1098.2,209.6" stroke="#d0d0d0" stroke-width="3.3" stroke-linecap="round"/><path d="M1095.2,210.6 L1070.3,267.5" stroke="#b5b5b5" stroke-width="2.2" stroke-linecap="round"/><polygon points="1106.3,219.8 1144.0,219.8 1144.0,292.4" fill="#585858"/><polygon points="1144.0,219.8 1170.5,219.8 1144.0,292.4" fill="#686868"/><polygon points="1106.3,219.8 1170.5,219.8 1158.3,247.6 1123.0,247.6" fill="#4a4a4a"/><polygon points="1170.5,218.8 1179.7,218.8 1147.8,294.4" fill="#929292"/><path d="M1103.3,218.8 L1173.5,218.8" stroke="#d0d0d0" stroke-width="3.7" stroke-linecap="round"/><path d="M1170.5,219.8 L1144.0,292.4" stroke="#b5b5b5" stroke-width="2.2" stroke-linecap="round"/><polygon points="1181.5,212.2 1202.3,212.2 1202.3,279.4" fill="#585858"/><polygon points="1202.3,212.2 1232.7,212.2 1202.3,279.4" fill="#686868"/><polygon points="1181.5,212.2 1232.7,212.2 1219.3,237.9 1191.1,237.9" fill="#4a4a4a"/><polygon points="1232.7,211.2 1240.1,211.2 1205.4,281.4" fill="#929292"/><path d="M1178.5,211.2 L1235.7,211.2" stroke="#d0d0d0" stroke-width="3.4" stroke-linecap="round"/><path d="M1232.7,212.2 L1202.3,279.4" stroke="#b5b5b5" stroke-width="2.2" stroke-linecap="round"/><polygon points="1244.0,213.3 1275.4,213.3 1275.4,271.4" fill="#585858"/><polygon points="1275.4,213.3 1310.7,213.3 1275.4,271.4" fill="#686868"/><polygon points="1244.0,213.3 1310.7,213.3 1294.9,235.4 1258.2,235.4" fill="#4a4a4a"/><polygon points="1310.7,212.3 1320.3,212.3 1279.4,273.4" fill="#929292"/><path d="M1241.0,212.3 L1313.7,212.3" stroke="#d0d0d0" stroke-width="3.7" stroke-linecap="round"/><path d="M1310.7,213.3 L1275.4,271.4" stroke="#b5b5b5" stroke-width="2.2" stroke-linecap="round"/><polygon points="1322.9,219.2 1352.1,219.2 1352.1,290.6" fill="#585858"/><polygon points="1352.1,219.2 1383.8,219.2 1352.1,290.6" fill="#686868"/><polygon points="1322.9,219.2 1383.8,219.2 1369.6,246.5 1336.1,246.5" fill="#4a4a4a"/><polygon points="1383.8,218.2 1392.5,218.2 1355.8,292.6" fill="#929292"/><path d="M1319.9,218.2 L1386.8,218.2" stroke="#d0d0d0" stroke-width="3.9" stroke-linecap="round"/><path d="M1383.8,219.2 L1352.1,290.6" stroke="#b5b5b5" stroke-width="2.2" stroke-linecap="round"/><polygon points="1396.5,221.3 1435.9,221.3 1435.9,276.5" fill="#585858"/><polygon points="1435.9,221.3 1469.1,221.3 1435.9,276.5" fill="#686868"/><polygon points="1396.5,221.3 1469.1,221.3 1454.0,242.2 1414.1,242.2" fill="#4a4a4a"/><polygon points="1469.1,220.3 1479.5,220.3 1440.2,278.5" fill="#929292"/><path d="M1393.5,220.3 L1472.1,220.3" stroke="#d0d0d0" stroke-width="2.8" stroke-linecap="round"/><path d="M1469.1,221.3 L1435.9,276.5" stroke="#b5b5b5" stroke-width="2.2" stroke-linecap="round"/><polygon points="687.6,269.2 719.0,269.2 719.0,345.7" fill="#585858"/><polygon points="719.0,269.2 748.7,269.2 719.0,345.7" fill="#686868"/><polygon points="687.6,269.2 748.7,269.2 735.3,298.6 701.7,298.6" fill="#4a4a4a"/><polygon points="748.7,268.2 757.4,268.2 722.6,347.7" fill="#929292"/><path d="M684.6,268.2 L751.7,268.2" stroke="#d0d0d0" stroke-width="4.0" stroke-linecap="round"/><path d="M748.7,269.2 L719.0,345.7" stroke="#b5b5b5" stroke-width="2.2" stroke-linecap="round"/><polygon points="760.8,270.2 795.6,270.2 795.6,347.8" fill="#585858"/><polygon points="795.6,270.2 826.7,270.2 795.6,347.8" fill="#686868"/><polygon points="760.8,270.2 826.7,270.2 812.6,300.0 776.4,300.0" fill="#4a4a4a"/><polygon points="826.7,269.2 836.1,269.2 799.6,349.8" fill="#929292"/><path d="M757.8,269.2 L829.7,269.2" stroke="#d0d0d0" stroke-width="2.9" stroke-linecap="round"/><path d="M826.7,270.2 L795.6,347.8" stroke="#b5b5b5" stroke-width="2.2" stroke-linecap="round"/><polygon points="839.1,272.3 873.6,272.3 873.6,346.2" fill="#585858"/><polygon points="873.6,272.3 902.9,272.3 873.6,346.2" fill="#686868"/><polygon points="839.1,272.3 902.9,272.3 889.6,300.7 854.5,300.7" fill="#4a4a4a"/><polygon points="902.9,271.3 912.0,271.3 877.4,348.2" fill="#929292"/><path d="M836.1,271.3 L905.9,271.3" stroke="#d0d0d0" stroke-width="2.9" stroke-linecap="round"/><path d="M902.9,272.3 L873.6,346.2" stroke="#b5b5b5" stroke-width="2.2" stroke-linecap="round"/><polygon points="915.5,276.4 950.4,276.4 950.4,355.0" fill="#585858"/><polygon points="950.4,276.4 984.4,276.4 950.4,355.0" fill="#686868"/><polygon points="915.5,276.4 984.4,276.4 969.1,306.6 931.2,306.6" fill="#4a4a4a"/><polygon points="984.4,275.4 994.3,275.4 954.6,357.0" fill="#929292"/><path d="M912.5,275.4 L987.4,275.4" stroke="#d0d0d0" stroke-width="3.9" stroke-linecap="round"/><path d="M984.4,276.4 L950.4,355.0" stroke="#b5b5b5" stroke-width="2.2" stroke-linecap="round"/><polygon points="996.0,274.9 1020.6,274.9 1020.6,351.5" fill="#585858"/><polygon points="1020.6,274.9 1048.2,274.9 1020.6,351.5" fill="#686868"/><polygon points="996.0,274.9 1048.2,274.9 1035.9,304.3 1007.1,304.3" fill="#4a4a4a"/><polygon points="1048.2,273.9 1055.7,273.9 1023.7,353.5" fill="#929292"/><path d="M993.0,273.9 L1051.2,273.9" stroke="#d0d0d0" stroke-width="2.7" stroke-linecap="round"/><path d="M1048.2,274.9 L1020.6,351.5" stroke="#b5b5b5" stroke-width="2.2" stroke-linecap="round"/><polygon points="1058.5,273.9 1086.3,273.9 1086.3,339.9" fill="#585858"/><polygon points="1086.3,273.9 1114.2,273.9 1086.3,339.9" fill="#686868"/><polygon points="1058.5,273.9 1114.2,273.9 1101.7,299.1 1071.0,299.1" fill="#4a4a4a"/><polygon points="1114.2,272.9 1122.2,272.9 1089.6,341.9" fill="#929292"/><path d="M1055.5,272.9 L1117.2,272.9" stroke="#d0d0d0" stroke-width="2.6" stroke-linecap="round"/><path d="M1114.2,273.9 L1086.3,339.9" stroke="#b5b5b5" stroke-width="2.2" stroke-linecap="round"/><polygon points="1125.9,274.2 1154.9,274.2 1154.9,326.1" fill="#585858"/><polygon points="1154.9,274.2 1192.2,274.2 1154.9,326.1" fill="#686868"/><polygon points="1125.9,274.2 1192.2,274.2 1175.6,293.8 1139.1,293.8" fill="#4a4a4a"/><polygon points="1192.2,273.2 1201.6,273.2 1158.8,328.1" fill="#929292"/><path d="M1122.9,273.2 L1195.2,273.2" stroke="#d0d0d0" stroke-width="3.1" stroke-linecap="round"/><path d="M1192.2,274.2 L1154.9,326.1" stroke="#b5b5b5" stroke-width="2.2" stroke-linecap="round"/><polygon points="1204.7,266.4 1237.8,266.4 1237.8,320.5" fill="#585858"/><polygon points="1237.8,266.4 1270.4,266.4 1237.8,320.5" fill="#686868"/><polygon points="1204.7,266.4 1270.4,266.4 1255.7,286.9 1219.6,286.9" fill="#4a4a4a"/><polygon points="1270.4,265.4 1279.8,265.4 1241.7,322.5" fill="#929292"/><path d="M1201.7,265.4 L1273.4,265.4" stroke="#d0d0d0" stroke-width="3.8" stroke-linecap="round"/><path d="M1270.4,266.4 L1237.8,320.5" stroke="#b5b5b5" stroke-width="2.2" stroke-linecap="round"/><polygon points="1283.1,276.0 1316.6,276.0 1316.6,346.1" fill="#585858"/><polygon points="1316.6,276.0 1350.3,276.0 1316.6,346.1" fill="#686868"/><polygon points="1283.1,276.0 1350.3,276.0 1335.1,302.8 1298.2,302.8" fill="#4a4a4a"/><polygon points="1350.3,275.0 1359.9,275.0 1320.6,348.1" fill="#929292"/><path d="M1280.1,275.0 L1353.3,275.0" stroke="#d0d0d0" stroke-width="4.1" stroke-linecap="round"/><path d="M1350.3,276.0 L1316.6,346.1" stroke="#b5b5b5" stroke-width="2.2" stroke-linecap="round"/><polygon points="1361.0,271.0 1382.0,271.0 1382.0,327.4" fill="#585858"/><polygon points="1382.0,271.0 1406.6,271.0 1382.0,327.4" fill="#686868"/><polygon points="1361.0,271.0 1406.6,271.0 1395.6,292.3 1370.5,292.3" fill="#4a4a4a"/><polygon points="1406.6,270.0 1413.1,270.0 1384.7,329.4" fill="#929292"/><path d="M1358.0,270.0 L1409.6,270.0" stroke="#d0d0d0" stroke-width="3.8" stroke-linecap="round"/><path d="M1406.6,271.0 L1382.0,327.4" stroke="#b5b5b5" stroke-width="2.2" stroke-linecap="round"/><polygon points="1416.8,274.8 1448.2,274.8 1448.2,340.0" fill="#585858"/><polygon points="1448.2,274.8 1478.2,274.8 1448.2,340.0" fill="#686868"/><polygon points="1416.8,274.8 1478.2,274.8 1464.6,299.7 1430.9,299.7" fill="#4a4a4a"/><polygon points="1478.2,273.8 1486.9,273.8 1451.8,342.0" fill="#929292"/><path d="M1413.8,273.8 L1481.2,273.8" stroke="#d0d0d0" stroke-width="3.1" stroke-linecap="round"/><path d="M1478.2,274.8 L1448.2,340.0" stroke="#b5b5b5" stroke-width="2.2" stroke-linecap="round"/><polygon points="654.8,319.1 691.2,319.1 691.2,391.6" fill="#585858"/><polygon points="691.2,319.1 719.0,319.1 691.2,391.6" fill="#686868"/><polygon points="654.8,319.1 719.0,319.1 706.3,346.9 671.0,346.9" fill="#4a4a4a"/><polygon points="719.0,318.1 728.1,318.1 695.0,393.6" fill="#929292"/><path d="M651.8,318.1 L722.0,318.1" stroke="#d0d0d0" stroke-width="4.1" stroke-linecap="round"/><path d="M719.0,319.1 L691.2,391.6" stroke="#b5b5b5" stroke-width="2.2" stroke-linecap="round"/><polygon points="730.3,319.0 758.4,319.0 758.4,382.4" fill="#585858"/><polygon points="758.4,319.0 785.7,319.0 758.4,382.4" fill="#686868"/><polygon points="730.3,319.0 785.7,319.0 773.4,343.2 743.0,343.2" fill="#4a4a4a"/><polygon points="785.7,318.0 793.6,318.0 761.7,384.4" fill="#929292"/><path d="M727.3,318.0 L788.7,318.0" stroke="#d0d0d0" stroke-width="3.4" stroke-linecap="round"/><path d="M785.7,319.0 L758.4,382.4" stroke="#b5b5b5" stroke-width="2.2" stroke-linecap="round"/><polygon points="796.5,328.2 825.4,328.2 825.4,376.5" fill="#585858"/><polygon points="825.4,328.2 854.0,328.2 825.4,376.5" fill="#686868"/><polygon points="796.5,328.2 854.0,328.2 841.1,346.3 809.5,346.3" fill="#4a4a4a"/><polygon points="854.0,327.2 862.2,327.2 828.8,378.5" fill="#929292"/><path d="M793.5,327.2 L857.0,327.2" stroke="#d0d0d0" stroke-width="3.2" stroke-linecap="round"/><path d="M854.0,328.2 L825.4,376.5" stroke="#b5b5b5" stroke-width="2.2" stroke-linecap="round"/><polygon points="865.5,322.5 899.2,322.5 899.2,385.6" fill="#585858"/><polygon points="899.2,322.5 928.4,322.5 899.2,385.6" fill="#686868"/><polygon points="865.5,322.5 928.4,322.5 915.2,346.6 880.6,346.6" fill="#4a4a4a"/><polygon points="928.4,321.5 937.4,321.5 903.0,387.6" fill="#929292"/><path d="M862.5,321.5 L931.4,321.5" stroke="#d0d0d0" stroke-width="2.7" stroke-linecap="round"/><path d="M928.4,322.5 L899.2,385.6" stroke="#b5b5b5" stroke-width="2.2" stroke-linecap="round"/><polygon points="939.7,328.1 972.1,328.1 972.1,387.1" fill="#585858"/><polygon points="972.1,328.1 995.5,328.1 972.1,387.1" fill="#686868"/><polygon points="939.7,328.1 995.5,328.1 984.7,350.5 954.1,350.5" fill="#4a4a4a"/><polygon points="995.5,327.1 1003.4,327.1 975.4,389.1" fill="#929292"/><path d="M936.7,327.1 L998.5,327.1" stroke="#d0d0d0" stroke-width="3.0" stroke-linecap="round"/><path d="M995.5,328.1 L972.1,387.1" stroke="#b5b5b5" stroke-width="2.2" stroke-linecap="round"/><polygon points="1005.9,321.8 1036.1,321.8 1036.1,372.8" fill="#585858"/><polygon points="1036.1,321.8 1059.9,321.8 1036.1,372.8" fill="#686868"/><polygon points="1005.9,321.8 1059.9,321.8 1049.0,341.0 1019.3,341.0" fill="#4a4a4a"/><polygon points="1059.9,320.8 1067.6,320.8 1039.3,374.8" fill="#929292"/><path d="M1002.9,320.8 L1062.9,320.8" stroke="#d0d0d0" stroke-width="4.0" stroke-linecap="round"/><path d="M1059.9,321.8 L1036.1,372.8" stroke="#b5b5b5" stroke-width="2.2" stroke-linecap="round"/><polygon points="1070.1,318.9 1098.4,318.9 1098.4,375.2" fill="#585858"/><polygon points="1098.4,318.9 1124.2,318.9 1098.4,375.2" fill="#686868"/><polygon points="1070.1,318.9 1124.2,318.9 1112.5,340.2 1082.8,340.2" fill="#4a4a4a"/><polygon points="1124.2,317.9 1131.9,317.9 1101.6,377.2" fill="#929292"/><path d="M1067.1,317.9 L1127.2,317.9" stroke="#d0d0d0" stroke-width="4.1" stroke-linecap="round"/><path d="M1124.2,318.9 L1098.4,375.2" stroke="#b5b5b5" stroke-width="2.2" stroke-linecap="round"/><polygon points="1133.6,316.9 1153.3,316.9 1153.3,386.0" fill="#585858"/><polygon points="1153.3,316.9 1178.1,316.9 1153.3,386.0" fill="#686868"/><polygon points="1133.6,316.9 1178.1,316.9 1167.1,343.3 1142.6,343.3" fill="#4a4a4a"/><polygon points="1178.1,315.9 1184.5,315.9 1155.9,388.0" fill="#929292"/><path d="M1130.6,315.9 L1181.1,315.9" stroke="#d0d0d0" stroke-width="3.0" stroke-linecap="round"/><path d="M1178.1,316.9 L1153.3,386.0" stroke="#b5b5b5" stroke-width="2.2" stroke-linecap="round"/><polygon points="1188.1,320.9 1219.3,320.9 1219.3,377.3" fill="#585858"/><polygon points="1219.3,320.9 1247.9,320.9 1219.3,377.3" fill="#686868"/><polygon points="1188.1,320.9 1247.9,320.9 1235.0,342.2 1202.1,342.2" fill="#4a4a4a"/><polygon points="1247.9,319.9 1256.4,319.9 1222.9,379.3" fill="#929292"/><path d="M1185.1,319.9 L1250.9,319.9" stroke="#d0d0d0" stroke-width="2.8" stroke-linecap="round"/><path d="M1247.9,320.9 L1219.3,377.3" stroke="#b5b5b5" stroke-width="2.2" stroke-linecap="round"/><polygon points="1259.4,322.7 1287.0,322.7 1287.0,373.6" fill="#585858"/><polygon points="1287.0,322.7 1320.4,322.7 1287.0,373.6" fill="#686868"/><polygon points="1259.4,322.7 1320.4,322.7 1305.5,341.9 1272.0,341.9" fill="#4a4a4a"/><polygon points="1320.4,321.7 1329.1,321.7 1290.6,375.6" fill="#929292"/><path d="M1256.4,321.7 L1323.4,321.7" stroke="#d0d0d0" stroke-width="2.9" stroke-linecap="round"/><path d="M1320.4,322.7 L1287.0,373.6" stroke="#b5b5b5" stroke-width="2.2" stroke-linecap="round"/><polygon points="1331.5,321.1 1358.3,321.1 1358.3,380.7" fill="#585858"/><polygon points="1358.3,321.1 1387.0,321.1 1358.3,380.7" fill="#686868"/><polygon points="1331.5,321.1 1387.0,321.1 1374.1,343.8 1343.6,343.8" fill="#4a4a4a"/><polygon points="1387.0,320.1 1394.9,320.1 1361.6,382.7" fill="#929292"/><path d="M1328.5,320.1 L1390.0,320.1" stroke="#d0d0d0" stroke-width="3.4" stroke-linecap="round"/><path d="M1387.0,321.1 L1358.3,380.7" stroke="#b5b5b5" stroke-width="2.2" stroke-linecap="round"/><polygon points="1396.6,324.2 1420.5,324.2 1420.5,377.3" fill="#585858"/><polygon points="1420.5,324.2 1442.0,324.2 1420.5,377.3" fill="#686868"/><polygon points="1396.6,324.2 1442.0,324.2 1432.3,344.2 1407.3,344.2" fill="#4a4a4a"/><polygon points="1442.0,323.2 1448.5,323.2 1423.2,379.3" fill="#929292"/><path d="M1393.6,323.2 L1445.0,323.2" stroke="#d0d0d0" stroke-width="3.4" stroke-linecap="round"/><path d="M1442.0,324.2 L1420.5,377.3" stroke="#b5b5b5" stroke-width="2.2" stroke-linecap="round"/><polygon points="1452.4,326.9 1481.3,326.9 1481.3,391.4" fill="#585858"/><polygon points="1481.3,326.9 1516.7,326.9 1481.3,391.4" fill="#686868"/><polygon points="1452.4,326.9 1516.7,326.9 1501.0,351.5 1465.6,351.5" fill="#4a4a4a"/><polygon points="1516.7,325.9 1525.9,325.9 1485.1,393.4" fill="#929292"/><path d="M1449.4,325.9 L1519.7,325.9" stroke="#d0d0d0" stroke-width="3.8" stroke-linecap="round"/><path d="M1516.7,326.9 L1481.3,391.4" stroke="#b5b5b5" stroke-width="2.2" stroke-linecap="round"/><polygon points="701.7,369.9 738.0,369.9 738.0,423.4" fill="#585858"/><polygon points="738.0,369.9 764.2,369.9 738.0,423.4" fill="#686868"/><polygon points="701.7,369.9 764.2,369.9 752.2,390.1 717.8,390.1" fill="#4a4a4a"/><polygon points="764.2,368.9 773.2,368.9 741.7,425.4" fill="#929292"/><path d="M698.7,368.9 L767.2,368.9" stroke="#d0d0d0" stroke-width="2.9" stroke-linecap="round"/><path d="M764.2,369.9 L738.0,423.4" stroke="#b5b5b5" stroke-width="2.2" stroke-linecap="round"/><polygon points="776.4,367.7 805.7,367.7 805.7,436.3" fill="#585858"/><polygon points="805.7,367.7 841.4,367.7 805.7,436.3" fill="#686868"/><polygon points="776.4,367.7 841.4,367.7 825.5,393.9 789.7,393.9" fill="#4a4a4a"/><polygon points="841.4,366.7 850.7,366.7 809.6,438.3" fill="#929292"/><path d="M773.4,366.7 L844.4,366.7" stroke="#d0d0d0" stroke-width="3.8" stroke-linecap="round"/><path d="M841.4,367.7 L805.7,436.3" stroke="#b5b5b5" stroke-width="2.2" stroke-linecap="round"/><polygon points="852.0,376.1 874.2,376.1 874.2,423.8" fill="#585858"/><polygon points="874.2,376.1 897.8,376.1 874.2,423.8" fill="#686868"/><polygon points="852.0,376.1 897.8,376.1 887.2,393.9 862.0,393.9" fill="#4a4a4a"/><polygon points="897.8,375.1 904.4,375.1 877.0,425.8" fill="#929292"/><path d="M849.0,375.1 L900.8,375.1" stroke="#d0d0d0" stroke-width="3.9" stroke-linecap="round"/><path d="M897.8,376.1 L874.2,423.8" stroke="#b5b5b5" stroke-width="2.2" stroke-linecap="round"/><polygon points="906.2,374.3 923.5,374.3 923.5,430.1" fill="#585858"/><polygon points="923.5,374.3 948.6,374.3 923.5,430.1" fill="#686868"/><polygon points="906.2,374.3 948.6,374.3 937.5,395.4 914.2,395.4" fill="#4a4a4a"/><polygon points="948.6,373.3 954.6,373.3 926.0,432.1" fill="#929292"/><path d="M903.2,373.3 L951.6,373.3" stroke="#d0d0d0" stroke-width="2.9" stroke-linecap="round"/><path d="M948.6,374.3 L923.5,430.1" stroke="#b5b5b5" stroke-width="2.2" stroke-linecap="round"/><polygon points="958.0,377.7 982.3,377.7 982.3,447.0" fill="#585858"/><polygon points="982.3,377.7 1014.8,377.7 982.3,447.0" fill="#686868"/><polygon points="958.0,377.7 1014.8,377.7 1000.4,404.2 969.1,404.2" fill="#4a4a4a"/><polygon points="1014.8,376.7 1023.0,376.7 985.6,449.0" fill="#929292"/><path d="M955.0,376.7 L1017.8,376.7" stroke="#d0d0d0" stroke-width="3.4" stroke-linecap="round"/><path d="M1014.8,377.7 L982.3,447.0" stroke="#b5b5b5" stroke-width="2.2" stroke-linecap="round"/><polygon points="1025.8,374.3 1051.8,374.3 1051.8,432.8" fill="#585858"/><polygon points="1051.8,374.3 1084.6,374.3 1051.8,432.8" fill="#686868"/><polygon points="1025.8,374.3 1084.6,374.3 1070.0,396.5 1037.7,396.5" fill="#4a4a4a"/><polygon points="1084.6,373.3 1093.0,373.3 1055.3,434.8" fill="#929292"/><path d="M1022.8,373.3 L1087.6,373.3" stroke="#d0d0d0" stroke-width="2.7" stroke-linecap="round"/><path d="M1084.6,374.3 L1051.8,432.8" stroke="#b5b5b5" stroke-width="2.2" stroke-linecap="round"/><polygon points="1094.2,372.7 1115.3,372.7 1115.3,418.8" fill="#585858"/><polygon points="1115.3,372.7 1136.1,372.7 1115.3,418.8" fill="#686868"/><polygon points="1094.2,372.7 1136.1,372.7 1126.7,389.9 1103.7,389.9" fill="#4a4a4a"/><polygon points="1136.1,371.7 1142.0,371.7 1117.7,420.8" fill="#929292"/><path d="M1091.2,371.7 L1139.1,371.7" stroke="#d0d0d0" stroke-width="3.5" stroke-linecap="round"/><path d="M1136.1,372.7 L1115.3,418.8" stroke="#b5b5b5" stroke-width="2.2" stroke-linecap="round"/><polygon points="1144.1,368.5 1168.3,368.5 1168.3,418.5" fill="#585858"/><polygon points="1168.3,368.5 1187.0,368.5 1168.3,418.5" fill="#686868"/><polygon points="1144.1,368.5 1187.0,368.5 1178.5,387.3 1154.9,387.3" fill="#4a4a4a"/><polygon points="1187.0,367.5 1193.1,367.5 1170.9,420.5" fill="#929292"/><path d="M1141.1,367.5 L1190.0,367.5" stroke="#d0d0d0" stroke-width="4.2" stroke-linecap="round"/><path d="M1187.0,368.5 L1168.3,418.5" stroke="#b5b5b5" stroke-width="2.2" stroke-linecap="round"/><polygon points="1197.1,366.8 1234.1,366.8 1234.1,414.5" fill="#585858"/><polygon points="1234.1,366.8 1260.3,366.8 1234.1,414.5" fill="#686868"/><polygon points="1197.1,366.8 1260.3,366.8 1248.2,384.7 1213.5,384.7" fill="#4a4a4a"/><polygon points="1260.3,365.8 1269.3,365.8 1237.9,416.5" fill="#929292"/><path d="M1194.1,365.8 L1263.3,365.8" stroke="#d0d0d0" stroke-width="3.3" stroke-linecap="round"/><path d="M1260.3,366.8 L1234.1,414.5" stroke="#b5b5b5" stroke-width="2.2" stroke-linecap="round"/><polygon points="1271.9,371.7 1301.6,371.7 1301.6,425.5" fill="#585858"/><polygon points="1301.6,371.7 1330.9,371.7 1301.6,425.5" fill="#686868"/><polygon points="1271.9,371.7 1330.9,371.7 1317.7,392.0 1285.3,392.0" fill="#4a4a4a"/><polygon points="1330.9,370.7 1339.3,370.7 1305.1,427.5" fill="#929292"/><path d="M1268.9,370.7 L1333.9,370.7" stroke="#d0d0d0" stroke-width="3.3" stroke-linecap="round"/><path d="M1330.9,371.7 L1301.6,425.5" stroke="#b5b5b5" stroke-width="2.2" stroke-linecap="round"/><polygon points="1341.7,374.5 1372.7,374.5 1372.7,420.0" fill="#585858"/><polygon points="1372.7,374.5 1396.4,374.5 1372.7,420.0" fill="#686868"/><polygon points="1341.7,374.5 1396.4,374.5 1385.6,391.5 1355.5,391.5" fill="#4a4a4a"/><polygon points="1396.4,373.5 1404.2,373.5 1375.9,422.0" fill="#929292"/><path d="M1338.7,373.5 L1399.4,373.5" stroke="#d0d0d0" stroke-width="2.9" stroke-linecap="round"/><path d="M1396.4,374.5 L1372.7,420.0" stroke="#b5b5b5" stroke-width="2.2" stroke-linecap="round"/><polygon points="1406.5,370.9 1429.0,370.9 1429.0,435.7" fill="#585858"/><polygon points="1429.0,370.9 1457.4,370.9 1429.0,435.7" fill="#686868"/><polygon points="1406.5,370.9 1457.4,370.9 1444.7,395.6 1416.8,395.6" fill="#4a4a4a"/><polygon points="1457.4,369.9 1464.6,369.9 1432.0,437.7" fill="#929292"/><path d="M1403.5,369.9 L1460.4,369.9" stroke="#d0d0d0" stroke-width="2.9" stroke-linecap="round"/><path d="M1457.4,370.9 L1429.0,435.7" stroke="#b5b5b5" stroke-width="2.2" stroke-linecap="round"/><polygon points="1467.2,376.8 1496.4,376.8 1496.4,422.3" fill="#585858"/><polygon points="1496.4,376.8 1519.6,376.8 1496.4,422.3" fill="#686868"/><polygon points="1467.2,376.8 1519.6,376.8 1509.0,393.8 1480.2,393.8" fill="#4a4a4a"/><polygon points="1519.6,375.8 1527.1,375.8 1499.5,424.3" fill="#929292"/><path d="M1464.2,375.8 L1522.6,375.8" stroke="#d0d0d0" stroke-width="3.7" stroke-linecap="round"/><path d="M1519.6,376.8 L1496.4,422.3" stroke="#b5b5b5" stroke-width="2.2" stroke-linecap="round"/><polygon points="674.2,420.4 700.7,420.4 700.7,473.5" fill="#585858"/><polygon points="700.7,420.4 727.0,420.4 700.7,473.5" fill="#686868"/><polygon points="674.2,420.4 727.0,420.4 715.1,440.4 686.1,440.4" fill="#4a4a4a"/><polygon points="727.0,419.4 734.6,419.4 703.8,475.5" fill="#929292"/><path d="M671.2,419.4 L730.0,419.4" stroke="#d0d0d0" stroke-width="4.2" stroke-linecap="round"/><path d="M727.0,420.4 L700.7,473.5" stroke="#b5b5b5" stroke-width="2.2" stroke-linecap="round"/><polygon points="737.5,424.1 768.7,424.1 768.7,473.5" fill="#585858"/><polygon points="768.7,424.1 794.6,424.1 768.7,473.5" fill="#686868"/><polygon points="737.5,424.1 794.6,424.1 782.8,442.7 751.4,442.7" fill="#4a4a4a"/><polygon points="794.6,423.1 802.8,423.1 772.1,475.5" fill="#929292"/><path d="M734.5,423.1 L797.6,423.1" stroke="#d0d0d0" stroke-width="3.8" stroke-linecap="round"/><path d="M794.6,424.1 L768.7,473.5" stroke="#b5b5b5" stroke-width="2.2" stroke-linecap="round"/><polygon points="805.5,424.0 838.4,424.0 838.4,477.1" fill="#585858"/><polygon points="838.4,424.0 862.9,424.0 838.4,477.1" fill="#686868"/><polygon points="805.5,424.0 862.9,424.0 851.7,444.0 820.1,444.0" fill="#4a4a4a"/><polygon points="862.9,423.0 871.1,423.0 841.8,479.1" fill="#929292"/><path d="M802.5,423.0 L865.9,423.0" stroke="#d0d0d0" stroke-width="3.7" stroke-linecap="round"/><path d="M862.9,424.0 L838.4,477.1" stroke="#b5b5b5" stroke-width="2.2" stroke-linecap="round"/><polygon points="873.8,418.1 904.3,418.1 904.3,480.3" fill="#585858"/><polygon points="904.3,418.1 930.0,418.1 904.3,480.3" fill="#686868"/><polygon points="873.8,418.1 930.0,418.1 918.3,441.7 887.4,441.7" fill="#4a4a4a"/><polygon points="930.0,417.1 938.0,417.1 907.6,482.3" fill="#929292"/><path d="M870.8,417.1 L933.0,417.1" stroke="#d0d0d0" stroke-width="2.7" stroke-linecap="round"/><path d="M930.0,418.1 L904.3,480.3" stroke="#b5b5b5" stroke-width="2.2" stroke-linecap="round"/><polygon points="939.7,413.3 961.3,413.3 961.3,468.0" fill="#585858"/><polygon points="961.3,413.3 985.4,413.3 961.3,468.0" fill="#686868"/><polygon points="939.7,413.3 985.4,413.3 974.6,434.0 949.5,434.0" fill="#4a4a4a"/><polygon points="985.4,412.3 991.9,412.3 964.0,470.0" fill="#929292"/><path d="M936.7,412.3 L988.4,412.3" stroke="#d0d0d0" stroke-width="3.6" stroke-linecap="round"/><path d="M985.4,413.3 L961.3,468.0" stroke="#b5b5b5" stroke-width="2.2" stroke-linecap="round"/><polygon points="994.7,424.5 1022.7,424.5 1022.7,473.3" fill="#585858"/><polygon points="1022.7,424.5 1047.4,424.5 1022.7,473.3" fill="#686868"/><polygon points="994.7,424.5 1047.4,424.5 1036.2,442.8 1007.2,442.8" fill="#4a4a4a"/><polygon points="1047.4,423.5 1054.9,423.5 1025.9,475.3" fill="#929292"/><path d="M991.7,423.5 L1050.4,423.5" stroke="#d0d0d0" stroke-width="3.1" stroke-linecap="round"/><path d="M1047.4,424.5 L1022.7,473.3" stroke="#b5b5b5" stroke-width="2.2" stroke-linecap="round"/><polygon points="1057.5,419.6 1083.2,419.6 1083.2,476.8" fill="#585858"/><polygon points="1083.2,419.6 1111.1,419.6 1083.2,476.8" fill="#686868"/><polygon points="1057.5,419.6 1111.1,419.6 1098.6,441.3 1069.1,441.3" fill="#4a4a4a"/><polygon points="1111.1,418.6 1118.7,418.6 1086.4,478.8" fill="#929292"/><path d="M1054.5,418.6 L1114.1,418.6" stroke="#d0d0d0" stroke-width="4.2" stroke-linecap="round"/><path d="M1111.1,419.6 L1083.2,476.8" stroke="#b5b5b5" stroke-width="2.2" stroke-linecap="round"/><polygon points="1121.2,422.3 1152.6,422.3 1152.6,482.9" fill="#585858"/><polygon points="1152.6,422.3 1174.3,422.3 1152.6,482.9" fill="#686868"/><polygon points="1121.2,422.3 1174.3,422.3 1164.3,445.4 1135.1,445.4" fill="#4a4a4a"/><polygon points="1174.3,421.3 1181.9,421.3 1155.8,484.9" fill="#929292"/><path d="M1118.2,421.3 L1177.3,421.3" stroke="#d0d0d0" stroke-width="2.6" stroke-linecap="round"/><path d="M1174.3,422.3 L1152.6,482.9" stroke="#b5b5b5" stroke-width="2.2" stroke-linecap="round"/><polygon points="1184.4,416.3 1209.6,416.3 1209.6,477.8" fill="#585858"/><polygon points="1209.6,416.3 1236.9,416.3 1209.6,477.8" fill="#686868"/><polygon points="1184.4,416.3 1236.9,416.3 1224.7,439.7 1195.8,439.7" fill="#4a4a4a"/><polygon points="1236.9,415.3 1244.4,415.3 1212.8,479.8" fill="#929292"/><path d="M1181.4,415.3 L1239.9,415.3" stroke="#d0d0d0" stroke-width="2.7" stroke-linecap="round"/><path d="M1236.9,416.3 L1209.6,477.8" stroke="#b5b5b5" stroke-width="2.2" stroke-linecap="round"/><polygon points="1245.9,414.4 1264.9,414.4 1264.9,466.7" fill="#585858"/><polygon points="1264.9,414.4 1287.9,414.4 1264.9,466.7" fill="#686868"/><polygon points="1245.9,414.4 1287.9,414.4 1277.6,434.1 1254.5,434.1" fill="#4a4a4a"/><polygon points="1287.9,413.4 1293.9,413.4 1267.4,468.7" fill="#929292"/><path d="M1242.9,413.4 L1290.9,413.4" stroke="#d0d0d0" stroke-width="4.0" stroke-linecap="round"/><path d="M1287.9,414.4 L1264.9,466.7" stroke="#b5b5b5" stroke-width="2.2" stroke-linecap="round"/><polygon points="1296.7,424.8 1322.8,424.8 1322.8,480.5" fill="#585858"/><polygon points="1322.8,424.8 1347.6,424.8 1322.8,480.5" fill="#686868"/><polygon points="1296.7,424.8 1347.6,424.8 1336.4,445.9 1308.4,445.9" fill="#4a4a4a"/><polygon points="1347.6,423.8 1354.8,423.8 1325.8,482.5" fill="#929292"/><path d="M1293.7,423.8 L1350.6,423.8" stroke="#d0d0d0" stroke-width="4.2" stroke-linecap="round"/><path d="M1347.6,424.8 L1322.8,480.5" stroke="#b5b5b5" stroke-width="2.2" stroke-linecap="round"/><polygon points="1357.5,414.1 1385.0,414.1 1385.0,477.4" fill="#585858"/><polygon points="1385.0,414.1 1410.5,414.1 1385.0,477.4" fill="#686868"/><polygon points="1357.5,414.1 1410.5,414.1 1399.0,438.2 1369.8,438.2" fill="#4a4a4a"/><polygon points="1410.5,413.1 1418.1,413.1 1388.1,479.4" fill="#929292"/><path d="M1354.5,413.1 L1413.5,413.1" stroke="#d0d0d0" stroke-width="3.8" stroke-linecap="round"/><path d="M1410.5,414.1 L1385.0,477.4" stroke="#b5b5b5" stroke-width="2.2" stroke-linecap="round"/><polygon points="1419.2,415.1 1438.1,415.1 1438.1,481.5" fill="#585858"/><polygon points="1438.1,415.1 1457.5,415.1 1438.1,481.5" fill="#686868"/><polygon points="1419.2,415.1 1457.5,415.1 1448.8,440.5 1427.7,440.5" fill="#4a4a4a"/><polygon points="1457.5,414.1 1463.0,414.1 1440.4,483.5" fill="#929292"/><path d="M1416.2,414.1 L1460.5,414.1" stroke="#d0d0d0" stroke-width="2.9" stroke-linecap="round"/><path d="M1457.5,415.1 L1438.1,481.5" stroke="#b5b5b5" stroke-width="2.2" stroke-linecap="round"/><polygon points="693.9,469.4 718.1,469.4 718.1,511.6" fill="#585858"/><polygon points="718.1,469.4 743.8,469.4 718.1,511.6" fill="#686868"/><polygon points="693.9,469.4 743.8,469.4 732.2,485.1 704.8,485.1" fill="#4a4a4a"/><polygon points="743.8,468.4 750.9,468.4 721.0,513.6" fill="#929292"/><path d="M690.9,468.4 L746.8,468.4" stroke="#d0d0d0" stroke-width="3.4" stroke-linecap="round"/><path d="M743.8,469.4 L718.1,511.6" stroke="#b5b5b5" stroke-width="2.2" stroke-linecap="round"/><polygon points="753.2,461.5 779.5,461.5 779.5,511.0" fill="#585858"/><polygon points="779.5,461.5 802.8,461.5 779.5,511.0" fill="#686868"/><polygon points="753.2,461.5 802.8,461.5 792.2,480.1 765.0,480.1" fill="#4a4a4a"/><polygon points="802.8,460.5 809.8,460.5 782.4,513.0" fill="#929292"/><path d="M750.2,460.5 L805.8,460.5" stroke="#d0d0d0" stroke-width="3.5" stroke-linecap="round"/><path d="M802.8,461.5 L779.5,511.0" stroke="#b5b5b5" stroke-width="2.2" stroke-linecap="round"/><polygon points="811.5,461.6 828.6,461.6 828.6,519.6" fill="#585858"/><polygon points="828.6,461.6 853.6,461.6 828.6,519.6" fill="#686868"/><polygon points="811.5,461.6 853.6,461.6 842.6,483.6 819.4,483.6" fill="#4a4a4a"/><polygon points="853.6,460.6 859.6,460.6 831.2,521.6" fill="#929292"/><path d="M808.5,460.6 L856.6,460.6" stroke="#d0d0d0" stroke-width="3.0" stroke-linecap="round"/><path d="M853.6,461.6 L828.6,519.6" stroke="#b5b5b5" stroke-width="2.2" stroke-linecap="round"/><polygon points="861.1,467.1 878.5,467.1 878.5,511.6" fill="#585858"/><polygon points="878.5,467.1 897.5,467.1 878.5,511.6" fill="#686868"/><polygon points="861.1,467.1 897.5,467.1 889.0,483.7 869.0,483.7" fill="#4a4a4a"/><polygon points="897.5,466.1 902.7,466.1 880.7,513.6" fill="#929292"/><path d="M858.1,466.1 L900.5,466.1" stroke="#d0d0d0" stroke-width="4.0" stroke-linecap="round"/><path d="M897.5,467.1 L878.5,511.6" stroke="#b5b5b5" stroke-width="2.2" stroke-linecap="round"/><polygon points="906.0,469.9 937.1,469.9 937.1,511.9" fill="#585858"/><polygon points="937.1,469.9 959.1,469.9 937.1,511.9" fill="#686868"/><polygon points="906.0,469.9 959.1,469.9 949.0,485.5 919.8,485.5" fill="#4a4a4a"/><polygon points="959.1,468.9 966.7,468.9 940.2,513.9" fill="#929292"/><path d="M903.0,468.9 L962.1,468.9" stroke="#d0d0d0" stroke-width="2.7" stroke-linecap="round"/><path d="M959.1,469.9 L937.1,511.9" stroke="#b5b5b5" stroke-width="2.2" stroke-linecap="round"/><polygon points="969.6,463.8 1003.1,463.8 1003.1,514.9" fill="#585858"/><polygon points="1003.1,463.8 1026.4,463.8 1003.1,514.9" fill="#686868"/><polygon points="969.6,463.8 1026.4,463.8 1015.7,483.0 984.4,483.0" fill="#4a4a4a"/><polygon points="1026.4,462.8 1034.5,462.8 1006.5,516.9" fill="#929292"/><path d="M966.6,462.8 L1029.4,462.8" stroke="#d0d0d0" stroke-width="3.0" stroke-linecap="round"/><path d="M1026.4,463.8 L1003.1,514.9" stroke="#b5b5b5" stroke-width="2.2" stroke-linecap="round"/><polygon points="1036.4,466.7 1060.0,466.7 1060.0,530.0" fill="#585858"/><polygon points="1060.0,466.7 1084.1,466.7 1060.0,530.0" fill="#686868"/><polygon points="1036.4,466.7 1084.1,466.7 1073.3,490.8 1047.0,490.8" fill="#4a4a4a"/><polygon points="1084.1,465.7 1091.0,465.7 1062.8,532.0" fill="#929292"/><path d="M1033.4,465.7 L1087.1,465.7" stroke="#d0d0d0" stroke-width="4.2" stroke-linecap="round"/><path d="M1084.1,466.7 L1060.0,530.0" stroke="#b5b5b5" stroke-width="2.2" stroke-linecap="round"/><polygon points="1093.9,459.5 1122.6,459.5 1122.6,514.7" fill="#585858"/><polygon points="1122.6,459.5 1148.6,459.5 1122.6,514.7" fill="#686868"/><polygon points="1093.9,459.5 1148.6,459.5 1136.8,480.3 1106.7,480.3" fill="#4a4a4a"/><polygon points="1148.6,458.5 1156.4,458.5 1125.8,516.7" fill="#929292"/><path d="M1090.9,458.5 L1151.6,458.5" stroke="#d0d0d0" stroke-width="3.3" stroke-linecap="round"/><path d="M1148.6,459.5 L1122.6,514.7" stroke="#b5b5b5" stroke-width="2.2" stroke-linecap="round"/><polygon points="1157.7,464.4 1174.9,464.4 1174.9,506.4" fill="#585858"/><polygon points="1174.9,464.4 1197.9,464.4 1174.9,506.4" fill="#686868"/><polygon points="1157.7,464.4 1197.9,464.4 1187.7,480.0 1165.6,480.0" fill="#4a4a4a"/><polygon points="1197.9,463.4 1203.6,463.4 1177.3,508.4" fill="#929292"/><path d="M1154.7,463.4 L1200.9,463.4" stroke="#d0d0d0" stroke-width="3.3" stroke-linecap="round"/><path d="M1197.9,464.4 L1174.9,506.4" stroke="#b5b5b5" stroke-width="2.2" stroke-linecap="round"/><polygon points="1206.6,461.2 1233.0,461.2 1233.0,512.9" fill="#585858"/><polygon points="1233.0,461.2 1257.8,461.2 1233.0,512.9" fill="#686868"/><polygon points="1206.6,461.2 1257.8,461.2 1246.6,480.7 1218.4,480.7" fill="#4a4a4a"/><polygon points="1257.8,460.2 1265.1,460.2 1236.0,514.9" fill="#929292"/><path d="M1203.6,460.2 L1260.8,460.2" stroke="#d0d0d0" stroke-width="3.3" stroke-linecap="round"/><path d="M1257.8,461.2 L1233.0,512.9" stroke="#b5b5b5" stroke-width="2.2" stroke-linecap="round"/><polygon points="1267.8,470.0 1299.3,470.0 1299.3,523.5" fill="#585858"/><polygon points="1299.3,470.0 1321.6,470.0 1299.3,523.5" fill="#686868"/><polygon points="1267.8,470.0 1321.6,470.0 1311.3,490.2 1281.7,490.2" fill="#4a4a4a"/><polygon points="1321.6,469.0 1329.3,469.0 1302.5,525.5" fill="#929292"/><path d="M1264.8,469.0 L1324.6,469.0" stroke="#d0d0d0" stroke-width="3.8" stroke-linecap="round"/><path d="M1321.6,470.0 L1299.3,523.5" stroke="#b5b5b5" stroke-width="2.2" stroke-linecap="round"/><polygon points="1330.6,468.8 1353.4,468.8 1353.4,512.2" fill="#585858"/><polygon points="1353.4,468.8 1371.7,468.8 1353.4,512.2" fill="#686868"/><polygon points="1330.6,468.8 1371.7,468.8 1363.3,485.0 1340.7,485.0" fill="#4a4a4a"/><polygon points="1371.7,467.8 1377.5,467.8 1355.8,514.2" fill="#929292"/><path d="M1327.6,467.8 L1374.7,467.8" stroke="#d0d0d0" stroke-width="3.6" stroke-linecap="round"/><path d="M1371.7,468.8 L1353.4,512.2" stroke="#b5b5b5" stroke-width="2.2" stroke-linecap="round"/><polygon points="1379.8,466.3 1402.2,466.3 1402.2,513.5" fill="#585858"/><polygon points="1402.2,466.3 1423.7,466.3 1402.2,513.5" fill="#686868"/><polygon points="1379.8,466.3 1423.7,466.3 1414.0,484.0 1389.8,484.0" fill="#4a4a4a"/><polygon points="1423.7,465.3 1429.9,465.3 1404.9,515.5" fill="#929292"/><path d="M1376.8,465.3 L1426.7,465.3" stroke="#d0d0d0" stroke-width="3.5" stroke-linecap="round"/><path d="M1423.7,466.3 L1402.2,513.5" stroke="#b5b5b5" stroke-width="2.2" stroke-linecap="round"/><polygon points="1432.6,460.3 1455.4,460.3 1455.4,519.2" fill="#585858"/><polygon points="1455.4,460.3 1483.0,460.3 1455.4,519.2" fill="#686868"/><polygon points="1432.6,460.3 1483.0,460.3 1470.7,482.7 1443.0,482.7" fill="#4a4a4a"/><polygon points="1483.0,459.3 1490.2,459.3 1458.4,521.2" fill="#929292"/><path d="M1429.6,459.3 L1486.0,459.3" stroke="#d0d0d0" stroke-width="4.2" stroke-linecap="round"/><path d="M1483.0,460.3 L1455.4,519.2" stroke="#b5b5b5" stroke-width="2.2" stroke-linecap="round"/><polygon points="681.0,501.5 705.6,501.5 705.6,541.5" fill="#585858"/><polygon points="705.6,501.5 735.0,501.5 705.6,541.5" fill="#686868"/><polygon points="681.0,501.5 735.0,501.5 721.9,516.3 692.2,516.3" fill="#4a4a4a"/><polygon points="735.0,500.5 742.7,500.5 708.8,543.5" fill="#929292"/><path d="M678.0,500.5 L738.0,500.5" stroke="#d0d0d0" stroke-width="3.3" stroke-linecap="round"/><path d="M735.0,501.5 L705.6,541.5" stroke="#b5b5b5" stroke-width="2.2" stroke-linecap="round"/><polygon points="744.7,507.3 764.8,507.3 764.8,548.7" fill="#585858"/><polygon points="764.8,507.3 792.8,507.3 764.8,548.7" fill="#686868"/><polygon points="744.7,507.3 792.8,507.3 780.4,522.7 754.0,522.7" fill="#4a4a4a"/><polygon points="792.8,506.3 799.7,506.3 767.7,550.7" fill="#929292"/><path d="M741.7,506.3 L795.8,506.3" stroke="#d0d0d0" stroke-width="2.7" stroke-linecap="round"/><path d="M792.8,507.3 L764.8,548.7" stroke="#b5b5b5" stroke-width="2.2" stroke-linecap="round"/><polygon points="802.1,508.4 825.6,508.4 825.6,560.1" fill="#585858"/><polygon points="825.6,508.4 851.5,508.4 825.6,560.1" fill="#686868"/><polygon points="802.1,508.4 851.5,508.4 839.9,527.9 812.8,527.9" fill="#4a4a4a"/><polygon points="851.5,507.4 858.5,507.4 828.6,562.1" fill="#929292"/><path d="M799.1,507.4 L854.5,507.4" stroke="#d0d0d0" stroke-width="3.4" stroke-linecap="round"/><path d="M851.5,508.4 L825.6,560.1" stroke="#b5b5b5" stroke-width="2.2" stroke-linecap="round"/><polygon points="859.9,509.7 881.8,509.7 881.8,556.7" fill="#585858"/><polygon points="881.8,509.7 898.7,509.7 881.8,556.7" fill="#686868"/><polygon points="859.9,509.7 898.7,509.7 891.0,527.3 869.6,527.3" fill="#4a4a4a"/><polygon points="898.7,508.7 904.2,508.7 884.1,558.7" fill="#929292"/><path d="M856.9,508.7 L901.7,508.7" stroke="#d0d0d0" stroke-width="2.7" stroke-linecap="round"/><path d="M898.7,509.7 L881.8,556.7" stroke="#b5b5b5" stroke-width="2.2" stroke-linecap="round"/><polygon points="905.9,508.3 926.1,508.3 926.1,566.0" fill="#585858"/><polygon points="926.1,508.3 942.6,508.3 926.1,566.0" fill="#686868"/><polygon points="905.9,508.3 942.6,508.3 935.1,530.2 914.9,530.2" fill="#4a4a4a"/><polygon points="942.6,507.3 947.9,507.3 928.3,568.0" fill="#929292"/><path d="M902.9,507.3 L945.6,507.3" stroke="#d0d0d0" stroke-width="2.9" stroke-linecap="round"/><path d="M942.6,508.3 L926.1,566.0" stroke="#b5b5b5" stroke-width="2.2" stroke-linecap="round"/><polygon points="950.3,510.5 971.0,510.5 971.0,555.5" fill="#585858"/><polygon points="971.0,510.5 993.9,510.5 971.0,555.5" fill="#686868"/><polygon points="950.3,510.5 993.9,510.5 983.7,527.3 959.7,527.3" fill="#4a4a4a"/><polygon points="993.9,509.5 1000.1,509.5 973.6,557.5" fill="#929292"/><path d="M947.3,509.5 L996.9,509.5" stroke="#d0d0d0" stroke-width="3.6" stroke-linecap="round"/><path d="M993.9,510.5 L971.0,555.5" stroke="#b5b5b5" stroke-width="2.2" stroke-linecap="round"/><polygon points="1003.4,507.4 1034.3,507.4 1034.3,553.9" fill="#585858"/><polygon points="1034.3,507.4 1059.9,507.4 1034.3,553.9" fill="#686868"/><polygon points="1003.4,507.4 1059.9,507.4 1048.3,524.8 1017.2,524.8" fill="#4a4a4a"/><polygon points="1059.9,506.4 1068.0,506.4 1037.7,555.9" fill="#929292"/><path d="M1000.4,506.4 L1062.9,506.4" stroke="#d0d0d0" stroke-width="4.1" stroke-linecap="round"/><path d="M1059.9,507.4 L1034.3,553.9" stroke="#b5b5b5" stroke-width="2.2" stroke-linecap="round"/><polygon points="1069.4,502.0 1094.4,502.0 1094.4,549.5" fill="#585858"/><polygon points="1094.4,502.0 1113.2,502.0 1094.4,549.5" fill="#686868"/><polygon points="1069.4,502.0 1113.2,502.0 1104.6,519.8 1080.5,519.8" fill="#4a4a4a"/><polygon points="1113.2,501.0 1119.4,501.0 1097.0,551.5" fill="#929292"/><path d="M1066.4,501.0 L1116.2,501.0" stroke="#d0d0d0" stroke-width="2.7" stroke-linecap="round"/><path d="M1113.2,502.0 L1094.4,549.5" stroke="#b5b5b5" stroke-width="2.2" stroke-linecap="round"/><polygon points="1120.7,506.6 1140.0,506.6 1140.0,558.7" fill="#585858"/><polygon points="1140.0,506.6 1156.6,506.6 1140.0,558.7" fill="#686868"/><polygon points="1120.7,506.6 1156.6,506.6 1149.1,526.2 1129.3,526.2" fill="#4a4a4a"/><polygon points="1156.6,505.6 1161.8,505.6 1142.1,560.7" fill="#929292"/><path d="M1117.7,505.6 L1159.6,505.6" stroke="#d0d0d0" stroke-width="3.1" stroke-linecap="round"/><path d="M1156.6,506.6 L1140.0,558.7" stroke="#b5b5b5" stroke-width="2.2" stroke-linecap="round"/><polygon points="1165.0,503.4 1192.4,503.4 1192.4,544.2" fill="#585858"/><polygon points="1192.4,503.4 1216.6,503.4 1192.4,544.2" fill="#686868"/><polygon points="1165.0,503.4 1216.6,503.4 1205.6,518.5 1177.2,518.5" fill="#4a4a4a"/><polygon points="1216.6,502.4 1224.0,502.4 1195.4,546.2" fill="#929292"/><path d="M1162.0,502.4 L1219.6,502.4" stroke="#d0d0d0" stroke-width="2.7" stroke-linecap="round"/><path d="M1216.6,503.4 L1192.4,544.2" stroke="#b5b5b5" stroke-width="2.2" stroke-linecap="round"/><polygon points="1225.4,509.1 1244.2,509.1 1244.2,564.9" fill="#585858"/><polygon points="1244.2,509.1 1266.3,509.1 1244.2,564.9" fill="#686868"/><polygon points="1225.4,509.1 1266.3,509.1 1256.4,530.2 1233.9,530.2" fill="#4a4a4a"/><polygon points="1266.3,508.1 1272.2,508.1 1246.6,566.9" fill="#929292"/><path d="M1222.4,508.1 L1269.3,508.1" stroke="#d0d0d0" stroke-width="2.8" stroke-linecap="round"/><path d="M1266.3,509.1 L1244.2,564.9" stroke="#b5b5b5" stroke-width="2.2" stroke-linecap="round"/><polygon points="1274.2,505.2 1292.2,505.2 1292.2,561.0" fill="#585858"/><polygon points="1292.2,505.2 1316.4,505.2 1292.2,561.0" fill="#686868"/><polygon points="1274.2,505.2 1316.4,505.2 1305.6,526.3 1282.5,526.3" fill="#4a4a4a"/><polygon points="1316.4,504.2 1322.4,504.2 1294.7,563.0" fill="#929292"/><path d="M1271.2,504.2 L1319.4,504.2" stroke="#d0d0d0" stroke-width="3.7" stroke-linecap="round"/><path d="M1316.4,505.2 L1292.2,561.0" stroke="#b5b5b5" stroke-width="2.2" stroke-linecap="round"/><polygon points="1324.8,512.1 1352.0,512.1 1352.0,572.3" fill="#585858"/><polygon points="1352.0,512.1 1371.8,512.1 1352.0,572.3" fill="#686868"/><polygon points="1324.8,512.1 1371.8,512.1 1362.7,535.0 1336.9,535.0" fill="#4a4a4a"/><polygon points="1371.8,511.1 1378.5,511.1 1354.8,574.3" fill="#929292"/><path d="M1321.8,511.1 L1374.8,511.1" stroke="#d0d0d0" stroke-width="3.3" stroke-linecap="round"/><path d="M1371.8,512.1 L1352.0,572.3" stroke="#b5b5b5" stroke-width="2.2" stroke-linecap="round"/><polygon points="1381.2,504.6 1406.3,504.6 1406.3,550.7" fill="#585858"/><polygon points="1406.3,504.6 1433.4,504.6 1406.3,550.7" fill="#686868"/><polygon points="1381.2,504.6 1433.4,504.6 1421.3,521.8 1392.6,521.8" fill="#4a4a4a"/><polygon points="1433.4,503.6 1440.9,503.6 1409.4,552.7" fill="#929292"/><path d="M1378.2,503.6 L1436.4,503.6" stroke="#d0d0d0" stroke-width="4.1" stroke-linecap="round"/><path d="M1433.4,504.6 L1406.3,550.7" stroke="#b5b5b5" stroke-width="2.2" stroke-linecap="round"/><polygon points="1443.6,505.1 1469.4,505.1 1469.4,549.9" fill="#585858"/><polygon points="1469.4,505.1 1497.9,505.1 1469.4,549.9" fill="#686868"/><polygon points="1443.6,505.1 1497.9,505.1 1485.1,521.8 1455.3,521.8" fill="#4a4a4a"/><polygon points="1497.9,504.1 1505.7,504.1 1472.6,551.9" fill="#929292"/><path d="M1440.6,504.1 L1500.9,504.1" stroke="#d0d0d0" stroke-width="3.2" stroke-linecap="round"/><path d="M1497.9,505.1 L1469.4,549.9" stroke="#b5b5b5" stroke-width="2.2" stroke-linecap="round"/></g></g>
<text x="739.58" y="447.50" font-size="25.80" font-weight="bold" fill="#f2f2f2" textLength="87.11" lengthAdjust="spacingAndGlyphs">10 µm</text>
<rect x="754.3" y="462.3" width="71.0" height="12.0" fill="#f7f7f7"/>
<rect x="722.0" y="20.6" width="182.0" height="70.0" fill="#ffffff"/>
<rect x="724.0" y="0.0" width="67.0" height="24.0" fill="#ffffff"/>
<text x="740.87" y="69.50" font-size="41.00" font-weight="bold" fill="#1e1e1e" textLength="139.56" lengthAdjust="spacingAndGlyphs">MACPF</text>
<text x="730.26" y="36.57" font-size="46.30" font-weight="bold" textLength="57.48" lengthAdjust="spacingAndGlyphs">(b)</text>
<text x="10.29" y="598.76" font-size="44.91" font-weight="bold" textLength="49.32" lengthAdjust="spacingAndGlyphs">(c)</text>
<rect x="96.3" y="567.8" width="596.7" height="485.4" fill="none" stroke="#000" stroke-width="2.8"/>
<line x1="91.3" y1="1036.0" x2="96.3" y2="1036.0" stroke="#000" stroke-width="2.8"/>
<line x1="87.8" y1="984.0" x2="96.3" y2="984.0" stroke="#000" stroke-width="2.8"/>
<line x1="91.3" y1="932.0" x2="96.3" y2="932.0" stroke="#000" stroke-width="2.8"/>
<line x1="87.8" y1="879.9" x2="96.3" y2="879.9" stroke="#000" stroke-width="2.8"/>
<line x1="91.3" y1="827.9" x2="96.3" y2="827.9" stroke="#000" stroke-width="2.8"/>
<line x1="87.8" y1="775.9" x2="96.3" y2="775.9" stroke="#000" stroke-width="2.8"/>
<line x1="91.3" y1="723.9" x2="96.3" y2="723.9" stroke="#000" stroke-width="2.8"/>
<line x1="87.8" y1="671.8" x2="96.3" y2="671.8" stroke="#000" stroke-width="2.8"/>
<line x1="91.3" y1="619.8" x2="96.3" y2="619.8" stroke="#000" stroke-width="2.8"/>
<line x1="87.8" y1="567.8" x2="96.3" y2="567.8" stroke="#000" stroke-width="2.8"/>
<text x="80.2" y="573.6" font-size="23.5" text-anchor="end" font-weight="bold">60</text>
<text x="80.2" y="677.6" font-size="23.5" text-anchor="end" font-weight="bold">45</text>
<text x="80.2" y="781.7" font-size="23.5" text-anchor="end" font-weight="bold">30</text>
<text x="80.2" y="885.7" font-size="23.5" text-anchor="end" font-weight="bold">15</text>
<text x="80.2" y="989.8" font-size="23.5" text-anchor="end" font-weight="bold">0</text>
<line x1="149.6" y1="1053.2" x2="149.6" y2="1059.7" stroke="#000" stroke-width="2.8"/>
<line x1="204.0" y1="1053.2" x2="204.0" y2="1059.7" stroke="#000" stroke-width="2.8"/>
<line x1="258.4" y1="1053.2" x2="258.4" y2="1059.7" stroke="#000" stroke-width="2.8"/>
<line x1="312.9" y1="1053.2" x2="312.9" y2="1059.7" stroke="#000" stroke-width="2.8"/>
<line x1="367.3" y1="1053.2" x2="367.3" y2="1059.7" stroke="#000" stroke-width="2.8"/>
<line x1="421.7" y1="1053.2" x2="421.7" y2="1059.7" stroke="#000" stroke-width="2.8"/>
<line x1="476.1" y1="1053.2" x2="476.1" y2="1059.7" stroke="#000" stroke-width="2.8"/>
<line x1="530.5" y1="1053.2" x2="530.5" y2="1059.7" stroke="#000" stroke-width="2.8"/>
<line x1="585.0" y1="1053.2" x2="585.0" y2="1059.7" stroke="#000" stroke-width="2.8"/>
<line x1="639.4" y1="1053.2" x2="639.4" y2="1059.7" stroke="#000" stroke-width="2.8"/>
<line x1="96.3" y1="1053.2" x2="96.3" y2="1059.7" stroke="#000" stroke-width="2.8"/>
<line x1="693.0" y1="1053.2" x2="693.0" y2="1059.7" stroke="#000" stroke-width="2.8"/>
<text transform="translate(39.20,1046.38) rotate(-90)" font-size="39.00" font-weight="bold" textLength="261.89" lengthAdjust="spacingAndGlyphs">Power density</text>
<text transform="translate(39.70,772.85) rotate(-90)" font-size="39.00" textLength="11.56" lengthAdjust="spacingAndGlyphs">(</text>
<text transform="translate(39.20,758.74) rotate(-90)" font-size="39.00" font-weight="bold" textLength="82.98" lengthAdjust="spacingAndGlyphs">W/m</text>
<text transform="translate(23.20,674.82) rotate(-90)" font-size="25.30" textLength="14.65" lengthAdjust="spacingAndGlyphs">2</text>
<text transform="translate(39.70,658.49) rotate(-90)" font-size="39.00" textLength="10.55" lengthAdjust="spacingAndGlyphs">)</text>
<text transform="translate(159.50,1137.49) rotate(-90)" font-size="25.30" font-weight="bold" textLength="67.37" lengthAdjust="spacingAndGlyphs">Laver</text>
<text transform="translate(213.92,1141.04) rotate(-90)" font-size="25.30" font-weight="bold" textLength="72.12" lengthAdjust="spacingAndGlyphs">Chitin</text>
<text transform="translate(268.34,1190.17) rotate(-90)" font-size="25.30" font-weight="bold" textLength="120.52" lengthAdjust="spacingAndGlyphs">Fish scale</text>
<text transform="translate(306.26,1190.18) rotate(-90)" font-size="25.30" font-weight="bold" textLength="121.23" lengthAdjust="spacingAndGlyphs">Fish swim</text>
<text transform="translate(339.26,1159.53) rotate(-90)" font-size="25.30" font-weight="bold" textLength="89.41" lengthAdjust="spacingAndGlyphs">bladder</text>
<text transform="translate(378.88,1209.19) rotate(-90)" font-size="25.30" font-weight="bold" textLength="140.48" lengthAdjust="spacingAndGlyphs">Prawn shell</text>
<text transform="translate(431.60,1198.62) rotate(-90)" font-size="25.30" font-weight="bold" textLength="127.10" lengthAdjust="spacingAndGlyphs">Spider silk</text>
<text transform="translate(468.82,1175.19) rotate(-90)" font-size="25.30" font-weight="bold" textLength="105.49" lengthAdjust="spacingAndGlyphs">Eggshell</text>
<text transform="translate(499.92,1196.14) rotate(-90)" font-size="25.30" font-weight="bold" textLength="125.48" lengthAdjust="spacingAndGlyphs">membrane</text>
<text transform="translate(540.44,1201.71) rotate(-90)" font-size="25.30" font-weight="bold" textLength="130.60" lengthAdjust="spacingAndGlyphs">Rice paper</text>
<text transform="translate(577.66,1157.19) rotate(-90)" font-size="25.30" font-weight="bold" textLength="87.18" lengthAdjust="spacingAndGlyphs">Natural</text>
<text transform="translate(607.96,1190.18) rotate(-90)" font-size="25.30" font-weight="bold" textLength="120.49" lengthAdjust="spacingAndGlyphs">rose petal</text>
<text transform="translate(648.78,1223.12) rotate(-90)" font-size="25.30" font-weight="bold" textLength="154.44" lengthAdjust="spacingAndGlyphs">Cotton fibers</text>
<text transform="translate(679.38,1137.93) rotate(-90)" font-size="25.30" font-weight="bold" textLength="71.37" lengthAdjust="spacingAndGlyphs">+ PVA</text>
<line x1="187.6" y1="817.0" x2="131.6" y2="952.0" stroke="#ef9a5a" stroke-width="1.7"/>
<line x1="529.0" y1="816.5" x2="583.2" y2="948.7" stroke="#ef9a5a" stroke-width="1.7"/>
<path d="M149.6,983.5 L204.0,983.4 L258.4,983.4 L312.9,983.2 L367.3,983.4 L421.7,983.2 L476.1,982.7 L530.9,981.8 C546,981.4 558,976 567,960 C577,942 587,905 596,872 C605,838 625,710 639.5,609" fill="none" stroke="#86128f" stroke-width="2.7" stroke-linejoin="round"/>
<circle cx="149.6" cy="983.5" r="5.6" fill="url(#gball)"/>
<circle cx="204.0" cy="983.4" r="5.6" fill="url(#gball)"/>
<circle cx="258.4" cy="983.4" r="5.6" fill="url(#gball)"/>
<circle cx="312.9" cy="983.2" r="5.6" fill="url(#gball)"/>
<circle cx="367.3" cy="983.4" r="5.6" fill="url(#gball)"/>
<circle cx="421.7" cy="983.2" r="5.6" fill="url(#gball)"/>
<circle cx="476.1" cy="982.7" r="5.6" fill="url(#gball)"/>
<circle cx="530.5" cy="980.9" r="5.6" fill="url(#gball)"/>
<circle cx="585.0" cy="983.3" r="5.6" fill="url(#gball)"/>
<circle cx="639.4" cy="608.9" r="5.6" fill="url(#gball)"/>
<text transform="translate(159.20,965.99) rotate(-90)" font-size="25.00" font-weight="bold" textLength="90.80" lengthAdjust="spacingAndGlyphs">0.00002</text>
<text transform="translate(214.20,965.93) rotate(-90)" font-size="25.00" font-weight="bold" textLength="58.89" lengthAdjust="spacingAndGlyphs">0.021</text>
<text transform="translate(268.10,965.96) rotate(-90)" font-size="25.00" font-weight="bold" textLength="60.59" lengthAdjust="spacingAndGlyphs">0.014</text>
<text transform="translate(323.20,965.98) rotate(-90)" font-size="25.00" font-weight="bold" textLength="75.87" lengthAdjust="spacingAndGlyphs">0.0415</text>
<text transform="translate(378.20,965.97) rotate(-90)" font-size="25.00" font-weight="bold" textLength="74.95" lengthAdjust="spacingAndGlyphs">0.0076</text>
<text transform="translate(432.30,965.98) rotate(-90)" font-size="25.00" font-weight="bold" textLength="76.08" lengthAdjust="spacingAndGlyphs">0.0456</text>
<text transform="translate(485.00,965.95) rotate(-90)" font-size="25.00" font-weight="bold" textLength="60.35" lengthAdjust="spacingAndGlyphs">0.119</text>
<text transform="translate(540.10,963.79) rotate(-90)" font-size="25.00" font-weight="bold" textLength="62.70" lengthAdjust="spacingAndGlyphs">0.376</text>
<text transform="translate(596.20,965.97) rotate(-90)" font-size="25.00" font-weight="bold" textLength="61.55" lengthAdjust="spacingAndGlyphs">0.027</text>
<text transform="translate(664.70,639.99) rotate(-90)" font-size="23.50" font-weight="bold" textLength="24.91" lengthAdjust="spacingAndGlyphs">54</text>
<rect x="188.5" y="611.6" width="339.7" height="202.1" fill="#fff" stroke="#000" stroke-width="3"/>
<line x1="181.0" y1="813.4" x2="188.5" y2="813.4" stroke="#000" stroke-width="2.6"/>
<line x1="184.5" y1="796.6" x2="188.5" y2="796.6" stroke="#000" stroke-width="2.6"/>
<line x1="181.0" y1="779.8" x2="188.5" y2="779.8" stroke="#000" stroke-width="2.6"/>
<line x1="184.5" y1="763.0" x2="188.5" y2="763.0" stroke="#000" stroke-width="2.6"/>
<line x1="181.0" y1="746.2" x2="188.5" y2="746.2" stroke="#000" stroke-width="2.6"/>
<line x1="184.5" y1="729.4" x2="188.5" y2="729.4" stroke="#000" stroke-width="2.6"/>
<line x1="181.0" y1="712.6" x2="188.5" y2="712.6" stroke="#000" stroke-width="2.6"/>
<line x1="184.5" y1="695.8" x2="188.5" y2="695.8" stroke="#000" stroke-width="2.6"/>
<line x1="181.0" y1="679.0" x2="188.5" y2="679.0" stroke="#000" stroke-width="2.6"/>
<line x1="184.5" y1="662.2" x2="188.5" y2="662.2" stroke="#000" stroke-width="2.6"/>
<line x1="181.0" y1="645.4" x2="188.5" y2="645.4" stroke="#000" stroke-width="2.6"/>
<line x1="184.5" y1="628.6" x2="188.5" y2="628.6" stroke="#000" stroke-width="2.6"/>
<line x1="181.0" y1="611.8" x2="188.5" y2="611.8" stroke="#000" stroke-width="2.6"/>
<text x="143.85" y="817.50" font-size="14.30" font-weight="bold" textLength="29.32" lengthAdjust="spacingAndGlyphs">-0.1</text>
<text x="149.74" y="783.90" font-size="14.30" font-weight="bold" textLength="23.66" lengthAdjust="spacingAndGlyphs">0.0</text>
<text x="149.52" y="750.30" font-size="14.30" font-weight="bold" textLength="23.66" lengthAdjust="spacingAndGlyphs">0.1</text>
<text x="149.73" y="716.70" font-size="14.30" font-weight="bold" textLength="23.66" lengthAdjust="spacingAndGlyphs">0.2</text>
<text x="149.66" y="683.10" font-size="14.30" font-weight="bold" textLength="23.66" lengthAdjust="spacingAndGlyphs">0.3</text>
<text x="149.14" y="649.50" font-size="14.30" font-weight="bold" textLength="23.66" lengthAdjust="spacingAndGlyphs">0.4</text>
<text x="149.52" y="615.90" font-size="14.30" font-weight="bold" textLength="23.66" lengthAdjust="spacingAndGlyphs">0.5</text>
<line x1="207.3" y1="813.7" x2="207.3" y2="818.2" stroke="#000" stroke-width="2.6"/>
<line x1="240.7" y1="813.7" x2="240.7" y2="820.7" stroke="#000" stroke-width="2.6"/>
<line x1="274.1" y1="813.7" x2="274.1" y2="818.2" stroke="#000" stroke-width="2.6"/>
<line x1="307.5" y1="813.7" x2="307.5" y2="820.7" stroke="#000" stroke-width="2.6"/>
<line x1="340.9" y1="813.7" x2="340.9" y2="818.2" stroke="#000" stroke-width="2.6"/>
<line x1="374.3" y1="813.7" x2="374.3" y2="820.7" stroke="#000" stroke-width="2.6"/>
<line x1="407.7" y1="813.7" x2="407.7" y2="818.2" stroke="#000" stroke-width="2.6"/>
<line x1="441.1" y1="813.7" x2="441.1" y2="820.7" stroke="#000" stroke-width="2.6"/>
<line x1="474.5" y1="813.7" x2="474.5" y2="818.2" stroke="#000" stroke-width="2.6"/>
<line x1="507.9" y1="813.7" x2="507.9" y2="820.7" stroke="#000" stroke-width="2.6"/>
<text transform="translate(135.70,814.55) rotate(-90)" font-size="21.00" textLength="205.54" lengthAdjust="spacingAndGlyphs">Power Density (W/m</text>
<text transform="translate(127.00,606.91) rotate(-90)" font-size="14.00" textLength="6.71" lengthAdjust="spacingAndGlyphs">2</text>
<text transform="translate(135.70,599.80) rotate(-90)" font-size="21.00" textLength="5.90" lengthAdjust="spacingAndGlyphs">)</text>
<path d="M207.3,780.1 C215,777 225,775 240.1,773.8 C252,773.5 262,773.8 274,773.8 C285,771 296,769.2 307.6,769.3 C318,769.5 330,774.8 340.4,774.3 C352,774 362,770 374,764.2 C388,757 398,745 407.4,731.4 C416,718 424,702 432.6,691 C436,687.5 439,686.2 441,686.6 C443.5,687.2 445.5,689 446.5,684 C448,676 449,660 449.8,648 L451.6,611.6" fill="none" stroke="#86128f" stroke-width="2.5" stroke-linejoin="round"/>
<circle cx="207.3" cy="779.8" r="5.6" fill="url(#gball)"/>
<circle cx="240.7" cy="772.7" r="5.6" fill="url(#gball)"/>
<circle cx="274.1" cy="775.1" r="5.6" fill="url(#gball)"/>
<circle cx="307.5" cy="765.9" r="5.6" fill="url(#gball)"/>
<circle cx="340.9" cy="777.2" r="5.6" fill="url(#gball)"/>
<circle cx="374.3" cy="764.5" r="5.6" fill="url(#gball)"/>
<circle cx="407.7" cy="739.8" r="5.6" fill="url(#gball)"/>
<circle cx="441.1" cy="653.5" r="5.6" fill="url(#gball)"/>
<circle cx="474.5" cy="770.7" r="5.6" fill="url(#gball)"/>
<text x="715.81" y="606.53" font-size="45.55" font-weight="bold" textLength="56.07" lengthAdjust="spacingAndGlyphs">(d)</text>
<rect x="879.0" y="608.3" width="11.0" height="428.5" fill="#767450"/>
<rect x="890.0" y="626.2" width="3.0" height="414.4" fill="#c8c6aa"/>
<rect x="893.0" y="626.2" width="4.0" height="402.7" fill="#767450"/>
<rect x="897.0" y="638.7" width="6.0" height="386.4" fill="#767450"/>
<rect x="903.0" y="648.0" width="3.0" height="380.9" fill="#c8c6aa"/>
<rect x="906.0" y="648.0" width="4.0" height="374.7" fill="#767450"/>
<rect x="910.0" y="651.9" width="4.0" height="375.5" fill="#767450"/>
<rect x="914.0" y="651.9" width="4.0" height="378.6" fill="#c8c6aa"/>
<rect x="918.0" y="632.4" width="5.0" height="388.7" fill="#767450"/>
<rect x="923.0" y="645.7" width="4.0" height="380.2" fill="#c8c6aa"/>
<rect x="927.0" y="645.7" width="5.0" height="383.3" fill="#767450"/>
<rect x="932.0" y="625.0" width="5.0" height="394.6" fill="#767450"/>
<rect x="937.0" y="633.2" width="3.0" height="395.7" fill="#c8c6aa"/>
<rect x="940.0" y="633.2" width="4.0" height="391.8" fill="#767450"/>
<rect x="944.0" y="626.2" width="5.0" height="395.7" fill="#767450"/>
<rect x="949.0" y="645.7" width="4.0" height="384.8" fill="#c8c6aa"/>
<rect x="953.0" y="645.7" width="4.0" height="378.6" fill="#767450"/>
<rect x="957.0" y="636.3" width="4.0" height="391.1" fill="#767450"/>
<rect x="961.0" y="636.3" width="4.0" height="384.8" fill="#c8c6aa"/>
<rect x="965.0" y="622.3" width="4.0" height="403.5" fill="#767450"/>
<rect x="969.0" y="640.2" width="3.0" height="388.7" fill="#c8c6aa"/>
<rect x="972.0" y="640.2" width="4.5" height="386.4" fill="#767450"/>
<polygon points="877.6,901.5 884.0,899.0 890.0,901.0 897.0,899.5 905.0,901.0 912.0,899.0 920.0,901.0 928.0,898.5 936.0,900.5 944.0,898.5 952.0,900.0 960.0,899.0 968.0,900.5 976.5,901.0 976.5,962.6 970.0,962.6 970.0,988.8 962.0,988.8 962.0,939.4 956.0,939.4 956.0,969.5 950.0,969.5 950.0,989.6 944.0,989.6 944.0,971.0 936.0,971.0 936.0,978.0 928.0,978.0 928.0,943.3 922.0,943.3 922.0,982.7 916.0,982.7 916.0,946.4 910.0,946.4 910.0,968.8 904.0,968.8 904.0,955.0 896.0,955.0 896.0,999.7 890.5,999.7 890.5,927.0 884.0,927.0 884.0,919.3 877.6,919.3" fill="#453b03"/>
<rect x="878.5" y="860.0" width="3.5" height="40.0" fill="#5a5220"/>
<rect x="919.5" y="880.0" width="3.5" height="20.0" fill="#5a5220"/>
<rect x="946.5" y="870.0" width="3.5" height="30.0" fill="#5a5220"/>
<rect x="970.5" y="838.0" width="3.5" height="62.0" fill="#5a5220"/>
<rect x="987.4" y="765.1" width="3.2" height="229.2" fill="#e7e3a4"/>
<rect x="983.4" y="750.1" width="4.3" height="249.9" fill="#b4ae44"/>
<rect x="994.3" y="763.4" width="3.2" height="231.4" fill="#e7e3a4"/>
<rect x="990.3" y="759.2" width="4.3" height="237.5" fill="#b4ae44"/>
<rect x="1001.2" y="760.1" width="3.2" height="231.7" fill="#e7e3a4"/>
<rect x="997.2" y="754.6" width="4.3" height="248.6" fill="#b4ae44"/>
<rect x="1008.1" y="749.4" width="3.2" height="241.8" fill="#e7e3a4"/>
<rect x="1004.1" y="746.3" width="4.3" height="249.9" fill="#b4ae44"/>
<rect x="1015.0" y="754.6" width="3.2" height="238.3" fill="#e7e3a4"/>
<rect x="1011.0" y="745.8" width="4.3" height="250.2" fill="#b4ae44"/>
<rect x="1021.9" y="768.9" width="3.2" height="223.2" fill="#e7e3a4"/>
<rect x="1017.9" y="748.8" width="4.3" height="247.0" fill="#b4ae44"/>
<rect x="1028.8" y="765.0" width="3.2" height="227.9" fill="#e7e3a4"/>
<rect x="1024.8" y="759.4" width="4.3" height="243.4" fill="#b4ae44"/>
<rect x="1035.7" y="764.4" width="3.2" height="230.4" fill="#e7e3a4"/>
<rect x="1031.7" y="755.8" width="4.3" height="240.9" fill="#b4ae44"/>
<rect x="1042.6" y="765.2" width="3.2" height="236.0" fill="#e7e3a4"/>
<rect x="1038.6" y="723.6" width="4.3" height="279.2" fill="#b4ae44"/>
<rect x="1049.5" y="763.4" width="3.2" height="232.1" fill="#e7e3a4"/>
<rect x="1045.5" y="754.5" width="4.3" height="249.2" fill="#b4ae44"/>
<rect x="1056.4" y="759.2" width="3.2" height="236.6" fill="#e7e3a4"/>
<rect x="1052.4" y="750.2" width="4.3" height="250.8" fill="#b4ae44"/>
<rect x="1063.3" y="761.9" width="3.2" height="237.3" fill="#e7e3a4"/>
<rect x="1059.3" y="755.9" width="4.3" height="247.6" fill="#b4ae44"/>
<rect x="1070.2" y="750.8" width="3.2" height="244.9" fill="#e7e3a4"/>
<rect x="1066.2" y="747.6" width="4.3" height="256.1" fill="#b4ae44"/>
<rect x="1077.1" y="748.6" width="3.2" height="242.8" fill="#e7e3a4"/>
<rect x="1073.1" y="744.1" width="4.3" height="253.4" fill="#b4ae44"/>
<polygon points="983.4,904.0 1080.0,903.0 1080.0,917.0 1075.0,932.0 1062.0,932.0 1058.0,918.0 1042.0,920.0 1038.0,930.0 1028.0,930.0 1024.0,918.0 1002.0,918.0 999.0,941.0 986.0,941.0 983.4,925.0" fill="#a59d10"/>
<rect x="1091.4" y="804.4" width="3.2" height="180.4" fill="#f0eca8"/>
<rect x="1087.4" y="800.0" width="4.3" height="186.6" fill="#d6ce38"/>
<rect x="1098.3" y="808.5" width="3.2" height="170.9" fill="#f0eca8"/>
<rect x="1094.3" y="788.6" width="4.3" height="199.4" fill="#d6ce38"/>
<rect x="1105.2" y="804.0" width="3.2" height="176.8" fill="#f0eca8"/>
<rect x="1101.2" y="797.7" width="4.3" height="185.7" fill="#d6ce38"/>
<rect x="1112.1" y="809.1" width="3.2" height="172.0" fill="#f0eca8"/>
<rect x="1108.1" y="794.9" width="4.3" height="191.8" fill="#d6ce38"/>
<rect x="1119.0" y="808.0" width="3.2" height="174.9" fill="#f0eca8"/>
<rect x="1115.0" y="801.4" width="4.3" height="185.1" fill="#d6ce38"/>
<rect x="1125.9" y="806.0" width="3.2" height="175.5" fill="#f0eca8"/>
<rect x="1121.9" y="790.6" width="4.3" height="196.7" fill="#d6ce38"/>
<rect x="1132.8" y="805.8" width="3.2" height="173.6" fill="#f0eca8"/>
<rect x="1128.8" y="802.5" width="4.3" height="185.6" fill="#d6ce38"/>
<rect x="1139.7" y="811.3" width="3.2" height="169.9" fill="#f0eca8"/>
<rect x="1135.7" y="801.6" width="4.3" height="181.7" fill="#d6ce38"/>
<rect x="1146.6" y="806.6" width="3.2" height="175.2" fill="#f0eca8"/>
<rect x="1142.6" y="775.8" width="4.3" height="212.0" fill="#d6ce38"/>
<rect x="1153.5" y="805.8" width="3.2" height="172.1" fill="#f0eca8"/>
<rect x="1149.5" y="797.7" width="4.3" height="190.1" fill="#d6ce38"/>
<rect x="1160.4" y="802.1" width="3.2" height="176.4" fill="#f0eca8"/>
<rect x="1156.4" y="794.5" width="4.3" height="188.5" fill="#d6ce38"/>
<rect x="1167.3" y="806.1" width="3.2" height="170.2" fill="#f0eca8"/>
<rect x="1163.3" y="798.1" width="4.3" height="183.9" fill="#d6ce38"/>
<rect x="1174.2" y="807.2" width="3.2" height="170.9" fill="#f0eca8"/>
<rect x="1170.2" y="801.8" width="4.3" height="180.0" fill="#d6ce38"/>
<rect x="1181.1" y="803.2" width="3.2" height="179.7" fill="#f0eca8"/>
<rect x="1177.1" y="792.3" width="4.3" height="196.1" fill="#d6ce38"/>
<rect x="1087.4" y="904.5" width="96.6" height="12.5" fill="#d2c80a"/>
<rect x="1196.0" y="854.3" width="3.3" height="89.2" fill="#f8f19c"/>
<rect x="1192.0" y="840.7" width="4.3" height="107.7" fill="#f0e228"/>
<rect x="1203.0" y="850.7" width="3.3" height="90.4" fill="#f8f19c"/>
<rect x="1199.0" y="845.2" width="4.3" height="105.3" fill="#f0e228"/>
<rect x="1210.0" y="854.2" width="3.3" height="87.5" fill="#f8f19c"/>
<rect x="1206.0" y="845.3" width="4.3" height="101.8" fill="#f0e228"/>
<rect x="1217.0" y="849.5" width="3.3" height="92.4" fill="#f8f19c"/>
<rect x="1212.9" y="846.0" width="4.3" height="100.0" fill="#f0e228"/>
<rect x="1223.9" y="851.3" width="3.3" height="93.7" fill="#f8f19c"/>
<rect x="1219.9" y="846.3" width="4.3" height="106.3" fill="#f0e228"/>
<rect x="1230.9" y="851.8" width="3.3" height="90.2" fill="#f8f19c"/>
<rect x="1226.9" y="840.8" width="4.3" height="108.9" fill="#f0e228"/>
<rect x="1237.9" y="857.1" width="3.3" height="84.5" fill="#f8f19c"/>
<rect x="1233.9" y="845.1" width="4.3" height="102.3" fill="#f0e228"/>
<rect x="1244.9" y="854.8" width="3.3" height="87.6" fill="#f8f19c"/>
<rect x="1240.8" y="848.9" width="4.3" height="98.0" fill="#f0e228"/>
<rect x="1251.9" y="855.3" width="3.3" height="90.2" fill="#f8f19c"/>
<rect x="1247.8" y="842.5" width="4.3" height="109.1" fill="#f0e228"/>
<rect x="1258.8" y="852.2" width="3.3" height="92.5" fill="#f8f19c"/>
<rect x="1254.8" y="846.4" width="4.3" height="104.5" fill="#f0e228"/>
<rect x="1265.8" y="853.5" width="3.3" height="92.0" fill="#f8f19c"/>
<rect x="1261.8" y="842.5" width="4.3" height="107.7" fill="#f0e228"/>
<rect x="1272.8" y="857.1" width="3.3" height="87.2" fill="#f8f19c"/>
<rect x="1268.8" y="843.6" width="4.3" height="107.2" fill="#f0e228"/>
<rect x="1279.8" y="854.3" width="3.3" height="90.3" fill="#f8f19c"/>
<rect x="1275.7" y="846.4" width="4.3" height="103.9" fill="#f0e228"/>
<rect x="1286.7" y="851.6" width="3.3" height="91.6" fill="#f8f19c"/>
<rect x="1282.7" y="847.2" width="4.3" height="101.4" fill="#f0e228"/>
<rect x="1192.0" y="904.5" width="97.7" height="12.5" fill="#eadc0c"/>
<rect x="1301.7" y="882.8" width="3.2" height="41.9" fill="#fbf69e"/>
<rect x="1297.7" y="876.0" width="4.3" height="50.3" fill="#f5ed18"/>
<rect x="1308.7" y="884.9" width="3.2" height="36.0" fill="#fbf69e"/>
<rect x="1304.7" y="878.1" width="4.3" height="49.9" fill="#f5ed18"/>
<rect x="1315.7" y="885.7" width="3.2" height="34.2" fill="#fbf69e"/>
<rect x="1311.6" y="877.8" width="4.3" height="46.4" fill="#f5ed18"/>
<rect x="1322.6" y="883.3" width="3.2" height="36.9" fill="#fbf69e"/>
<rect x="1318.6" y="877.4" width="4.3" height="49.7" fill="#f5ed18"/>
<rect x="1329.6" y="881.8" width="3.2" height="40.7" fill="#fbf69e"/>
<rect x="1325.6" y="878.4" width="4.3" height="47.6" fill="#f5ed18"/>
<rect x="1336.6" y="884.0" width="3.2" height="40.6" fill="#fbf69e"/>
<rect x="1332.6" y="878.7" width="4.3" height="49.7" fill="#f5ed18"/>
<rect x="1343.6" y="887.8" width="3.2" height="30.9" fill="#fbf69e"/>
<rect x="1339.5" y="878.6" width="4.3" height="49.5" fill="#f5ed18"/>
<rect x="1350.5" y="889.8" width="3.2" height="32.6" fill="#fbf69e"/>
<rect x="1346.5" y="883.8" width="4.3" height="40.3" fill="#f5ed18"/>
<rect x="1357.5" y="890.1" width="3.2" height="35.5" fill="#fbf69e"/>
<rect x="1353.5" y="880.3" width="4.3" height="47.3" fill="#f5ed18"/>
<rect x="1364.5" y="889.5" width="3.2" height="30.6" fill="#fbf69e"/>
<rect x="1360.4" y="882.2" width="4.3" height="45.6" fill="#f5ed18"/>
<rect x="1371.4" y="887.7" width="3.2" height="29.6" fill="#fbf69e"/>
<rect x="1367.4" y="878.7" width="4.3" height="44.6" fill="#f5ed18"/>
<rect x="1378.4" y="893.1" width="3.2" height="27.3" fill="#fbf69e"/>
<rect x="1374.4" y="880.0" width="4.3" height="44.6" fill="#f5ed18"/>
<rect x="1385.4" y="893.0" width="3.2" height="26.3" fill="#fbf69e"/>
<rect x="1381.4" y="883.6" width="4.3" height="40.4" fill="#f5ed18"/>
<rect x="1392.4" y="887.3" width="3.2" height="34.7" fill="#fbf69e"/>
<rect x="1388.3" y="881.3" width="4.3" height="42.9" fill="#f5ed18"/>
<rect x="1297.7" y="904.5" width="97.6" height="12.5" fill="#f4ea02"/>
<line x1="980.0" y1="572.2" x2="980.0" y2="1106.0" stroke="#6f6f6f" stroke-width="3.0" stroke-dasharray="9 15.5"/>
<line x1="1082.7" y1="572.2" x2="1082.7" y2="1106.0" stroke="#6f6f6f" stroke-width="3.0" stroke-dasharray="9 15.5"/>
<line x1="1187.6" y1="572.2" x2="1187.6" y2="1106.0" stroke="#6f6f6f" stroke-width="3.0" stroke-dasharray="9 15.5"/>
<line x1="1292.9" y1="572.2" x2="1292.9" y2="1106.0" stroke="#6f6f6f" stroke-width="3.0" stroke-dasharray="9 15.5"/>
<rect x="1196.0" y="572.0" width="200.0" height="45.0" fill="#ffffff"/>
<rect x="862.0" y="570.2" width="538.8" height="537.8" fill="none" stroke="#333" stroke-width="3.2"/>
<line x1="862.0" y1="1067.9" x2="872.0" y2="1067.9" stroke="#333" stroke-width="3.2"/>
<line x1="862.0" y1="1029.0" x2="868.0" y2="1029.0" stroke="#333" stroke-width="3.2"/>
<line x1="862.0" y1="990.0" x2="872.0" y2="990.0" stroke="#333" stroke-width="3.2"/>
<line x1="862.0" y1="951.1" x2="868.0" y2="951.1" stroke="#333" stroke-width="3.2"/>
<line x1="862.0" y1="912.1" x2="872.0" y2="912.1" stroke="#333" stroke-width="3.2"/>
<line x1="862.0" y1="873.1" x2="868.0" y2="873.1" stroke="#333" stroke-width="3.2"/>
<line x1="862.0" y1="834.2" x2="872.0" y2="834.2" stroke="#333" stroke-width="3.2"/>
<line x1="862.0" y1="795.2" x2="868.0" y2="795.2" stroke="#333" stroke-width="3.2"/>
<line x1="862.0" y1="756.3" x2="872.0" y2="756.3" stroke="#333" stroke-width="3.2"/>
<line x1="862.0" y1="717.4" x2="868.0" y2="717.4" stroke="#333" stroke-width="3.2"/>
<line x1="862.0" y1="678.4" x2="872.0" y2="678.4" stroke="#333" stroke-width="3.2"/>
<line x1="862.0" y1="639.5" x2="868.0" y2="639.5" stroke="#333" stroke-width="3.2"/>
<line x1="862.0" y1="600.5" x2="872.0" y2="600.5" stroke="#333" stroke-width="3.2"/>
<text x="794.60" y="609.70" font-size="27.30" font-weight="bold" fill="#2b2b2b" textLength="55.57" lengthAdjust="spacingAndGlyphs">400</text>
<text x="794.60" y="687.60" font-size="27.30" font-weight="bold" fill="#2b2b2b" textLength="55.57" lengthAdjust="spacingAndGlyphs">300</text>
<text x="794.60" y="765.50" font-size="27.30" font-weight="bold" fill="#2b2b2b" textLength="55.57" lengthAdjust="spacingAndGlyphs">200</text>
<text x="794.60" y="843.40" font-size="27.30" font-weight="bold" fill="#2b2b2b" textLength="55.57" lengthAdjust="spacingAndGlyphs">100</text>
<text x="831.64" y="921.30" font-size="27.30" font-weight="bold" fill="#2b2b2b" textLength="18.52" lengthAdjust="spacingAndGlyphs">0</text>
<text x="783.51" y="999.20" font-size="27.30" font-weight="bold" fill="#2b2b2b" textLength="66.66" lengthAdjust="spacingAndGlyphs">-100</text>
<text x="783.51" y="1077.10" font-size="27.30" font-weight="bold" fill="#2b2b2b" textLength="66.66" lengthAdjust="spacingAndGlyphs">-200</text>
<text x="900.41" y="1141.20" font-size="30.00" font-weight="bold" fill="#262626" textLength="36.02" lengthAdjust="spacingAndGlyphs">40</text>
<text x="1009.69" y="1141.20" font-size="30.00" font-weight="bold" fill="#262626" textLength="36.56" lengthAdjust="spacingAndGlyphs">50</text>
<text x="1115.69" y="1141.20" font-size="30.00" font-weight="bold" fill="#262626" textLength="36.77" lengthAdjust="spacingAndGlyphs">60</text>
<text x="1221.97" y="1141.20" font-size="30.00" font-weight="bold" fill="#262626" textLength="36.99" lengthAdjust="spacingAndGlyphs">70</text>
<text x="1328.36" y="1141.20" font-size="30.00" font-weight="bold" fill="#262626" textLength="36.59" lengthAdjust="spacingAndGlyphs">80</text>
<text x="906.56" y="1189.20" font-size="44.00" font-weight="bold" fill="#1a1a1a" textLength="449.63" lengthAdjust="spacingAndGlyphs">Relative Humidity (%)</text>
<text transform="translate(778.50,980.80) rotate(-90)" font-size="41.00" font-weight="bold" fill="#1a1a1a" textLength="227.47" lengthAdjust="spacingAndGlyphs">Voltage (V)</text>
<text x="1207.42" y="603.80" font-size="31.40" font-weight="bold" fill="#2a2a2a" textLength="175.61" lengthAdjust="spacingAndGlyphs">MASF-TENG</text>
<text x="15.07" y="1279.06" font-size="45.87" font-weight="bold" textLength="54.76" lengthAdjust="spacingAndGlyphs">(e)</text>
<polygon points="13.5,1302.2 347.0,1302.2 406.0,1377.1 347.0,1452.0 13.5,1452.0 72.5,1377.1" fill="#5b9bd5"/>
<rect x="94.0" y="1344.0" width="370.7" height="307.7" rx="31" ry="31" fill="#ffffff" fill-opacity="0.89" stroke="#5b9bd5" stroke-width="3.4"/>
<text x="126.75" y="1411.50" font-size="38.50" font-weight="bold" fill="#0d0d0d" textLength="238.81" lengthAdjust="spacingAndGlyphs">Multifunction</text>
<circle cx="134.2" cy="1455.8" r="4.9" fill="#111"/>
<text x="146.6" y="1464.4" font-size="26.9" fill="#111">Wearable electronics</text>
<circle cx="134.2" cy="1492.8" r="4.9" fill="#111"/>
<text x="146.6" y="1501.4" font-size="26.9" fill="#111">In-vitro health</text>
<text x="146.6" y="1533.9" font-size="26.9" fill="#111">monitoring</text>
<circle cx="134.2" cy="1561.8" r="4.9" fill="#111"/>
<text x="146.6" y="1570.4" font-size="26.9" fill="#111">E-skin</text>
<circle cx="134.2" cy="1599.6" r="4.9" fill="#111"/>
<text x="146.6" y="1608.2" font-size="26.9" fill="#111">Drug delivery</text>
<circle cx="134.2" cy="1637.4" r="4.9" fill="#111"/>
<text x="146.6" y="1646.0" font-size="26.9" fill="#111">Cancer therapy</text>
<polygon points="487.9,1302.2 821.4,1302.2 880.4,1377.1 821.4,1452.0 487.9,1452.0 546.9,1377.1" fill="#52c690"/>
<rect x="570.4" y="1344.0" width="375.9" height="307.7" rx="31" ry="31" fill="#ffffff" fill-opacity="0.89" stroke="#52c690" stroke-width="3.4"/>
<text x="603.46" y="1411.50" font-size="38.50" font-weight="bold" fill="#0d0d0d" textLength="244.61" lengthAdjust="spacingAndGlyphs">Output power</text>
<circle cx="610.6" cy="1457.1" r="4.9" fill="#111"/>
<text x="623.0" y="1465.7" font-size="26.9" fill="#111">New materials with high</text>
<text x="623.0" y="1497.2" font-size="26.9" fill="#111">energy conversion</text>
<text x="623.0" y="1528.4" font-size="26.9" fill="#111">efficiency</text>
<circle cx="610.6" cy="1558.4" r="4.9" fill="#111"/>
<text x="623.0" y="1567.0" font-size="26.9" fill="#111">Large potential</text>
<text x="623.0" y="1599.2" font-size="26.9" fill="#111">difference for</text>
<text x="623.0" y="1631.4" font-size="26.9" fill="#111">nanogenerators</text>
<polygon points="963.5,1302.2 1297.0,1302.2 1356.0,1377.1 1297.0,1452.0 963.5,1452.0 1022.5,1377.1" fill="#70ad47"/>
<rect x="1047.7" y="1344.0" width="373.8" height="307.7" rx="31" ry="31" fill="#ffffff" fill-opacity="0.89" stroke="#70ad47" stroke-width="3.4"/>
<text x="1080.16" y="1411.50" font-size="38.50" font-weight="bold" fill="#0d0d0d" textLength="141.04" lengthAdjust="spacingAndGlyphs">Stability</text>
<circle cx="1087.9" cy="1455.9" r="4.9" fill="#111"/>
<text x="1100.3" y="1464.5" font-size="26.9" fill="#111">Thermal/chemical</text>
<text x="1100.3" y="1494.8" font-size="26.9" fill="#111">properties</text>
<circle cx="1087.9" cy="1525.0" r="4.9" fill="#111"/>
<text x="1100.3" y="1533.6" font-size="26.9" fill="#111">Hydrophobic protection</text>
<circle cx="1087.9" cy="1562.4" r="4.9" fill="#111"/>
<text x="1100.3" y="1571.0" font-size="26.9" fill="#111">Chemical modification</text>
<circle cx="1087.9" cy="1599.8" r="4.9" fill="#111"/>
<text x="1100.3" y="1608.4" font-size="26.9" fill="#111">Tunable triboelectricity</text>
<rect x="737.5" y="1196" width="2" height="2.5" fill="#3cc8e6"/>
</svg>
</body></html>
